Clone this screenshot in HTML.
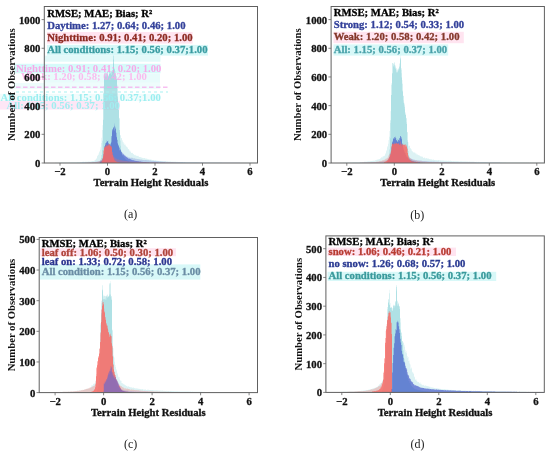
<!DOCTYPE html>
<html><head><meta charset="utf-8"><title>Terrain Height Residuals histograms</title>
<style>
html,body{margin:0;padding:0;background:#fff;}
body{width:550px;height:453px;overflow:hidden;}
svg{display:block;filter:blur(0.35px);}
svg text{font-family:'Liberation Serif', 'DejaVu Serif', serif;}
</style></head>
<body>
<svg width="550" height="453" viewBox="0 0 550 453">
<rect x="0" y="0" width="550" height="453" fill="#fff"/>
<rect x="44.5" y="55.7" width="116" height="6" fill="#e2f9f9"/>
<rect x="14.5" y="63.8" width="146" height="9.5" fill="#d6fafa"/>
<rect x="44" y="73.3" width="116" height="9.5" fill="#e8fbfb"/>
<rect x="14" y="83" width="146" height="6" fill="#eefcfc"/>
<rect x="0" y="93.8" width="160" height="7.2" fill="#f0fcfc"/>
<rect x="0" y="101" width="120" height="8.6" fill="#fde6f6"/>
<path d="M55.00 163.00L55.00 162.69L55.50 162.69L55.50 162.68L56.00 162.68L56.00 162.68L56.50 162.68L56.50 162.69L57.00 162.69L57.00 162.65L57.50 162.65L57.50 162.65L58.00 162.65L58.00 162.65L58.50 162.65L58.50 162.63L59.00 162.63L59.00 162.62L59.50 162.62L59.50 162.61L60.00 162.61L60.00 162.61L60.50 162.61L60.50 162.59L61.00 162.59L61.00 162.60L61.50 162.60L61.50 162.58L62.00 162.58L62.00 162.58L62.50 162.58L62.50 162.54L63.00 162.54L63.00 162.54L63.50 162.54L63.50 162.54L64.00 162.54L64.00 162.54L64.50 162.54L64.50 162.52L65.00 162.52L65.00 162.50L65.50 162.50L65.50 162.49L66.00 162.49L66.00 162.44L66.50 162.44L66.50 162.44L67.00 162.44L67.00 162.51L67.50 162.51L67.50 162.48L68.00 162.48L68.00 162.42L68.50 162.42L68.50 162.42L69.00 162.42L69.00 162.39L69.50 162.39L69.50 162.37L70.00 162.37L70.00 162.30L70.50 162.30L70.50 162.38L71.00 162.38L71.00 162.34L71.50 162.34L71.50 162.25L72.00 162.25L72.00 162.28L72.50 162.28L72.50 162.26L73.00 162.26L73.00 162.28L73.50 162.28L73.50 162.30L74.00 162.30L74.00 162.22L74.50 162.22L74.50 162.21L75.00 162.21L75.00 162.24L75.50 162.24L75.50 162.20L76.00 162.20L76.00 162.16L76.50 162.16L76.50 162.17L77.00 162.17L77.00 162.12L77.50 162.12L77.50 162.10L78.00 162.10L78.00 162.08L78.50 162.08L78.50 162.08L79.00 162.08L79.00 162.02L79.50 162.02L79.50 161.98L80.00 161.98L80.00 161.99L80.50 161.99L80.50 162.02L81.00 162.02L81.00 161.92L81.50 161.92L81.50 161.96L82.00 161.96L82.00 161.87L82.50 161.87L82.50 161.94L83.00 161.94L83.00 161.82L83.50 161.82L83.50 161.84L84.00 161.84L84.00 161.89L84.50 161.89L84.50 161.81L85.00 161.81L85.00 161.77L85.50 161.77L85.50 161.73L86.00 161.73L86.00 161.77L86.50 161.77L86.50 161.75L87.00 161.75L87.00 161.65L87.50 161.65L87.50 161.66L88.00 161.66L88.00 161.59L88.50 161.59L88.50 161.53L89.00 161.53L89.00 161.65L89.50 161.65L89.50 161.50L90.00 161.50L90.00 161.38L90.50 161.38L90.50 161.40L91.00 161.40L91.00 161.36L91.50 161.36L91.50 161.14L92.00 161.14L92.00 161.09L92.50 161.09L92.50 160.93L93.00 160.93L93.00 160.94L93.50 160.94L93.50 160.95L94.00 160.95L94.00 160.69L94.50 160.69L94.50 160.61L95.00 160.61L95.00 160.11L95.50 160.11L95.50 159.49L96.00 159.49L96.00 158.99L96.50 158.99L96.50 157.91L97.00 157.91L97.00 156.35L97.50 156.35L97.50 155.51L98.00 155.51L98.00 154.98L98.50 154.98L98.50 153.62L99.00 153.62L99.00 152.31L99.50 152.31L99.50 151.25L100.00 151.25L100.00 149.86L100.50 149.86L100.50 147.23L101.00 147.23L101.00 142.88L101.50 142.88L101.50 137.75L102.00 137.75L102.00 129.99L102.50 129.99L102.50 125.18L103.00 125.18L103.00 105.21L103.50 105.21L103.50 86.20L104.00 86.20L104.00 77.03L104.50 77.03L104.50 73.72L105.00 73.72L105.00 74.80L105.50 74.80L105.50 71.87L106.00 71.87L106.00 73.45L106.50 73.45L106.50 72.68L107.00 72.68L107.00 72.31L107.50 72.31L107.50 74.14L108.00 74.14L108.00 76.15L108.50 76.15L108.50 76.68L109.00 76.68L109.00 70.95L109.50 70.95L109.50 73.43L110.00 73.43L110.00 74.01L110.50 74.01L110.50 72.50L111.00 72.50L111.00 72.86L111.50 72.86L111.50 71.01L112.00 71.01L112.00 72.14L112.50 72.14L112.50 72.00L113.00 72.00L113.00 63.01L113.50 63.01L113.50 55.25L114.00 55.25L114.00 68.11L114.50 68.11L114.50 69.80L115.00 69.80L115.00 70.92L115.50 70.92L115.50 76.52L116.00 76.52L116.00 78.73L116.50 78.73L116.50 79.96L117.00 79.96L117.00 84.81L117.50 84.81L117.50 98.80L118.00 98.80L118.00 106.32L118.50 106.32L118.50 109.48L119.00 109.48L119.00 117.69L119.50 117.69L119.50 132.16L120.00 132.16L120.00 135.01L120.50 135.01L120.50 135.57L121.00 135.57L121.00 138.03L121.50 138.03L121.50 138.35L122.00 138.35L122.00 139.88L122.50 139.88L122.50 141.54L123.00 141.54L123.00 141.95L123.50 141.95L123.50 143.43L124.00 143.43L124.00 143.38L124.50 143.38L124.50 145.09L125.00 145.09L125.00 145.74L125.50 145.74L125.50 144.40L126.00 144.40L126.00 146.25L126.50 146.25L126.50 146.89L127.00 146.89L127.00 147.11L127.50 147.11L127.50 148.35L128.00 148.35L128.00 148.90L128.50 148.90L128.50 149.15L129.00 149.15L129.00 149.87L129.50 149.87L129.50 151.27L130.00 151.27L130.00 150.75L130.50 150.75L130.50 152.04L131.00 152.04L131.00 152.73L131.50 152.73L131.50 153.06L132.00 153.06L132.00 153.22L132.50 153.22L132.50 152.73L133.00 152.73L133.00 154.29L133.50 154.29L133.50 154.10L134.00 154.10L134.00 155.32L134.50 155.32L134.50 154.84L135.00 154.84L135.00 154.79L135.50 154.79L135.50 155.42L136.00 155.42L136.00 155.77L136.50 155.77L136.50 155.69L137.00 155.69L137.00 155.75L137.50 155.75L137.50 155.97L138.00 155.97L138.00 155.77L138.50 155.77L138.50 156.49L139.00 156.49L139.00 156.90L139.50 156.90L139.50 156.95L140.00 156.95L140.00 157.10L140.50 157.10L140.50 157.21L141.00 157.21L141.00 157.40L141.50 157.40L141.50 157.50L142.00 157.50L142.00 158.08L142.50 158.08L142.50 157.63L143.00 157.63L143.00 158.09L143.50 158.09L143.50 158.36L144.00 158.36L144.00 158.09L144.50 158.09L144.50 158.08L145.00 158.08L145.00 158.38L145.50 158.38L145.50 158.57L146.00 158.57L146.00 158.89L146.50 158.89L146.50 158.29L147.00 158.29L147.00 158.78L147.50 158.78L147.50 159.25L148.00 159.25L148.00 159.29L148.50 159.29L148.50 159.24L149.00 159.24L149.00 159.61L149.50 159.61L149.50 159.43L150.00 159.43L150.00 159.62L150.50 159.62L150.50 159.46L151.00 159.46L151.00 159.59L151.50 159.59L151.50 160.21L152.00 160.21L152.00 159.91L152.50 159.91L152.50 160.22L153.00 160.22L153.00 159.93L153.50 159.93L153.50 160.14L154.00 160.14L154.00 160.17L154.50 160.17L154.50 160.44L155.00 160.44L155.00 160.17L155.50 160.17L155.50 160.23L156.00 160.23L156.00 160.65L156.50 160.65L156.50 160.56L157.00 160.56L157.00 160.74L157.50 160.74L157.50 160.73L158.00 160.73L158.00 160.92L158.50 160.92L158.50 160.67L159.00 160.67L159.00 161.00L159.50 161.00L159.50 161.00L160.00 161.00L160.00 160.97L160.50 160.97L160.50 161.11L161.00 161.11L161.00 161.10L161.50 161.10L161.50 161.16L162.00 161.16L162.00 161.16L162.50 161.16L162.50 161.27L163.00 161.27L163.00 161.24L163.50 161.24L163.50 161.25L164.00 161.25L164.00 161.29L164.50 161.29L164.50 161.29L165.00 161.29L165.00 161.35L165.50 161.35L165.50 161.30L166.00 161.30L166.00 161.41L166.50 161.41L166.50 161.42L167.00 161.42L167.00 161.48L167.50 161.48L167.50 161.50L168.00 161.50L168.00 161.57L168.50 161.57L168.50 161.48L169.00 161.48L169.00 161.61L169.50 161.61L169.50 161.61L170.00 161.61L170.00 161.57L170.50 161.57L170.50 161.59L171.00 161.59L171.00 161.66L171.50 161.66L171.50 161.78L172.00 161.78L172.00 161.66L172.50 161.66L172.50 161.69L173.00 161.69L173.00 161.81L173.50 161.81L173.50 161.70L174.00 161.70L174.00 161.81L174.50 161.81L174.50 161.85L175.00 161.85L175.00 161.80L175.50 161.80L175.50 161.83L176.00 161.83L176.00 161.83L176.50 161.83L176.50 161.94L177.00 161.94L177.00 161.78L177.50 161.78L177.50 161.92L178.00 161.92L178.00 161.98L178.50 161.98L178.50 161.89L179.00 161.89L179.00 161.95L179.50 161.95L179.50 161.93L180.00 161.93L180.00 161.98L180.50 161.98L180.50 161.98L181.00 161.98L181.00 161.98L181.50 161.98L181.50 162.04L182.00 162.04L182.00 161.99L182.50 161.99L182.50 162.05L183.00 162.05L183.00 162.08L183.50 162.08L183.50 162.05L184.00 162.05L184.00 162.05L184.50 162.05L184.50 162.09L185.00 162.09L185.00 162.13L185.50 162.13L185.50 162.08L186.00 162.08L186.00 162.19L186.50 162.19L186.50 162.17L187.00 162.17L187.00 162.14L187.50 162.14L187.50 162.21L188.00 162.21L188.00 162.17L188.50 162.17L188.50 162.18L189.00 162.18L189.00 162.16L189.50 162.16L189.50 162.23L190.00 162.23L190.00 162.23L190.50 162.23L190.50 162.21L191.00 162.21L191.00 162.32L191.50 162.32L191.50 162.14L192.00 162.14L192.00 162.28L192.50 162.28L192.50 162.29L193.00 162.29L193.00 162.25L193.50 162.25L193.50 162.29L194.00 162.29L194.00 162.35L194.50 162.35L194.50 162.28L195.00 162.28L195.00 162.29L195.50 162.29L195.50 162.34L196.00 162.34L196.00 162.34L196.50 162.34L196.50 162.33L197.00 162.33L197.00 162.38L197.50 162.38L197.50 162.35L198.00 162.35L198.00 162.36L198.50 162.36L198.50 162.40L199.00 162.40L199.00 162.43L199.50 162.43L199.50 162.40L200.00 162.40L200.00 162.43L200.50 162.43L200.50 162.38L201.00 162.38L201.00 162.41L201.50 162.41L201.50 162.40L202.00 162.40L202.00 162.43L202.50 162.43L202.50 162.43L203.00 162.43L203.00 162.46L203.50 162.46L203.50 162.43L204.00 162.43L204.00 162.41L204.50 162.41L204.50 162.47L205.00 162.47L205.00 162.48L205.50 162.48L205.50 162.48L206.00 162.48L206.00 162.49L206.50 162.49L206.50 162.50L207.00 162.50L207.00 162.49L207.50 162.49L207.50 162.50L208.00 162.50L208.00 162.47L208.50 162.47L208.50 162.51L209.00 162.51L209.00 162.51L209.50 162.51L209.50 162.50L210.00 162.50L210.00 162.53L210.50 162.53L210.50 162.50L211.00 162.50L211.00 162.55L211.50 162.55L211.50 162.56L212.00 162.56L212.00 162.55L212.50 162.55L212.50 162.55L213.00 162.55L213.00 162.58L213.50 162.58L213.50 162.56L214.00 162.56L214.00 162.60L214.50 162.60L214.50 162.54L215.00 162.54L215.00 162.58L215.50 162.58L215.50 162.59L216.00 162.59L216.00 162.60L216.50 162.60L216.50 162.60L217.00 162.60L217.00 162.60L217.50 162.60L217.50 162.62L218.00 162.62L218.00 162.62L218.50 162.62L218.50 162.61L219.00 162.61L219.00 162.62L219.50 162.62L219.50 162.60L220.00 162.60L220.00 162.60L220.50 162.60L220.50 162.63L221.00 162.63L221.00 162.62L221.50 162.62L221.50 162.66L222.00 162.66L222.00 162.63L222.50 162.63L222.50 162.64L223.00 162.64L223.00 162.64L223.50 162.64L223.50 162.63L224.00 162.63L224.00 162.69L224.50 162.69L224.50 162.66L225.00 162.66L225.00 162.68L225.50 162.68L225.50 162.66L226.00 162.66L226.00 162.69L226.50 162.69L226.50 162.68L227.00 162.68L227.00 162.68L227.50 162.68L227.50 162.67L228.00 162.67L228.00 162.69L228.50 162.69L228.50 162.70L229.00 162.70L229.00 162.70L229.50 162.70L229.50 162.69L230.00 162.69L230.00 162.70L230.50 162.70L230.50 162.73L231.00 162.73L231.00 162.70L231.50 162.70L231.50 162.71L232.00 162.71L232.00 162.70L232.50 162.70L232.50 162.72L233.00 162.72L233.00 162.71L233.50 162.71L233.50 162.74L234.00 162.74L234.00 162.72L234.50 162.72L234.50 162.74L235.00 162.74L235.00 162.73L235.50 162.73L235.50 162.73L236.00 162.73L236.00 162.75L236.50 162.75L236.50 162.75L237.00 162.75L237.00 162.75L237.50 162.75L237.50 162.74L238.00 162.74L238.00 162.75L238.50 162.75L238.50 162.77L239.00 162.77L239.00 162.76L239.50 162.76L239.50 162.76L240.00 162.76L240.00 162.74L240.50 162.74L240.50 162.79L241.00 162.79L241.00 162.78L241.50 162.78L241.50 162.76L242.00 162.76L242.00 162.79L242.50 162.79L242.50 162.79L243.00 162.79L243.00 162.78L243.50 162.78L243.50 162.78L244.00 162.78L244.00 162.80L244.50 162.80L244.50 162.79L245.00 162.79L245.00 162.79L245.50 162.79L245.50 162.78L246.00 162.78L246.00 162.80L246.50 162.80L246.50 162.79L247.00 162.79L247.00 162.81L247.50 162.81L247.50 162.81L248.00 162.81L248.00 162.81L248.50 162.81L248.50 162.80L249.00 162.80L249.00 162.81L249.50 162.81L249.50 162.82L250.00 162.82L250.00 162.81L250.50 162.81L250.50 162.82L251.00 162.82L251.00 162.83L251.50 162.83L251.50 162.83L252.00 162.83L252.00 162.83L252.50 162.83L252.50 162.84L253.00 162.84L253.00 162.83L253.50 162.83L253.50 162.83L254.00 162.83L254.00 162.84L254.50 162.84L254.50 162.84L255.00 162.84L255.00 162.85L255.50 162.85L255.50 162.85L256.00 162.85L256.00 162.85L256.50 162.85L256.50 162.84L257.00 162.84L257.00 163.00Z" fill="rgba(110,200,208,0.24)"/>
<path d="M99.00 163.00L99.00 161.85L99.50 161.85L99.50 161.46L100.00 161.46L100.00 160.54L100.50 160.54L100.50 159.52L101.00 159.52L101.00 158.08L101.50 158.08L101.50 155.11L102.00 155.11L102.00 150.03L102.50 150.03L102.50 140.84L103.00 140.84L103.00 119.85L103.50 119.85L103.50 92.64L104.00 92.64L104.00 76.13L104.50 76.13L104.50 72.71L105.00 72.71L105.00 76.39L105.50 76.39L105.50 73.78L106.00 73.78L106.00 73.95L106.50 73.95L106.50 76.52L107.00 76.52L107.00 74.43L107.50 74.43L107.50 72.12L108.00 72.12L108.00 75.30L108.50 75.30L108.50 76.19L109.00 76.19L109.00 73.90L109.50 73.90L109.50 71.89L110.00 71.89L110.00 72.60L110.50 72.60L110.50 72.74L111.00 72.74L111.00 74.81L111.50 74.81L111.50 71.57L112.00 71.57L112.00 71.42L112.50 71.42L112.50 69.87L113.00 69.87L113.00 59.48L113.50 59.48L113.50 54.90L114.00 54.90L114.00 69.08L114.50 69.08L114.50 73.17L115.00 73.17L115.00 75.12L115.50 75.12L115.50 73.61L116.00 73.61L116.00 76.05L116.50 76.05L116.50 78.85L117.00 78.85L117.00 88.50L117.50 88.50L117.50 96.62L118.00 96.62L118.00 103.11L118.50 103.11L118.50 109.88L119.00 109.88L119.00 118.60L119.50 118.60L119.50 130.01L120.00 130.01L120.00 140.53L120.50 140.53L120.50 145.86L121.00 145.86L121.00 150.70L121.50 150.70L121.50 153.74L122.00 153.74L122.00 155.16L122.50 155.16L122.50 156.00L123.00 156.00L123.00 156.32L123.50 156.32L123.50 157.16L124.00 157.16L124.00 157.78L124.50 157.78L124.50 158.31L125.00 158.31L125.00 159.10L125.50 159.10L125.50 159.49L126.00 159.49L126.00 159.92L126.50 159.92L126.50 160.20L127.00 160.20L127.00 160.56L127.50 160.56L127.50 160.61L128.00 160.61L128.00 160.85L128.50 160.85L128.50 161.11L129.00 161.11L129.00 161.32L129.50 161.32L129.50 161.39L130.00 161.39L130.00 161.45L130.50 161.45L130.50 161.61L131.00 161.61L131.00 161.67L131.50 161.67L131.50 161.79L132.00 161.79L132.00 161.84L132.50 161.84L132.50 161.90L133.00 161.90L133.00 161.96L133.50 161.96L133.50 162.03L134.00 162.03L134.00 162.04L134.50 162.04L134.50 162.05L135.00 162.05L135.00 162.19L135.50 162.19L135.50 162.15L136.00 162.15L136.00 162.25L136.50 162.25L136.50 162.29L137.00 162.29L137.00 162.38L137.50 162.38L137.50 162.43L138.00 162.43L138.00 162.37L138.50 162.37L138.50 162.45L139.00 162.45L139.00 162.44L139.50 162.44L139.50 162.48L140.00 162.48L140.00 163.00Z" fill="rgba(110,200,208,0.408)"/>
<path d="M80.00 163.00L80.00 162.69L80.50 162.69L80.50 162.69L81.00 162.69L81.00 162.67L81.50 162.67L81.50 162.69L82.00 162.69L82.00 162.61L82.50 162.61L82.50 162.60L83.00 162.60L83.00 162.61L83.50 162.61L83.50 162.57L84.00 162.57L84.00 162.57L84.50 162.57L84.50 162.56L85.00 162.56L85.00 162.51L85.50 162.51L85.50 162.52L86.00 162.52L86.00 162.50L86.50 162.50L86.50 162.49L87.00 162.49L87.00 162.44L87.50 162.44L87.50 162.43L88.00 162.43L88.00 162.39L88.50 162.39L88.50 162.40L89.00 162.40L89.00 162.35L89.50 162.35L89.50 162.36L90.00 162.36L90.00 162.28L90.50 162.28L90.50 162.27L91.00 162.27L91.00 162.23L91.50 162.23L91.50 162.20L92.00 162.20L92.00 162.21L92.50 162.21L92.50 162.10L93.00 162.10L93.00 161.99L93.50 161.99L93.50 162.09L94.00 162.09L94.00 162.04L94.50 162.04L94.50 161.97L95.00 161.97L95.00 161.79L95.50 161.79L95.50 161.76L96.00 161.76L96.00 161.63L96.50 161.63L96.50 161.57L97.00 161.57L97.00 161.52L97.50 161.52L97.50 161.43L98.00 161.43L98.00 161.37L98.50 161.37L98.50 161.20L99.00 161.20L99.00 161.26L99.50 161.26L99.50 161.09L100.00 161.09L100.00 160.83L100.50 160.83L100.50 160.34L101.00 160.34L101.00 160.27L101.50 160.27L101.50 159.91L102.00 159.91L102.00 159.36L102.50 159.36L102.50 158.13L103.00 158.13L103.00 156.74L103.50 156.74L103.50 153.90L104.00 153.90L104.00 152.39L104.50 152.39L104.50 146.67L105.00 146.67L105.00 143.68L105.50 143.68L105.50 144.83L106.00 144.83L106.00 142.45L106.50 142.45L106.50 140.37L107.00 140.37L107.00 141.26L107.50 141.26L107.50 141.08L108.00 141.08L108.00 140.51L108.50 140.51L108.50 143.29L109.00 143.29L109.00 144.79L109.50 144.79L109.50 146.14L110.00 146.14L110.00 144.78L110.50 144.78L110.50 143.97L111.00 143.97L111.00 141.42L111.50 141.42L111.50 137.38L112.00 137.38L112.00 132.53L112.50 132.53L112.50 131.49L113.00 131.49L113.00 129.38L113.50 129.38L113.50 128.59L114.00 128.59L114.00 123.42L114.50 123.42L114.50 127.08L115.00 127.08L115.00 126.79L115.50 126.79L115.50 131.66L116.00 131.66L116.00 135.66L116.50 135.66L116.50 137.08L117.00 137.08L117.00 140.34L117.50 140.34L117.50 143.90L118.00 143.90L118.00 145.70L118.50 145.70L118.50 145.25L119.00 145.25L119.00 147.38L119.50 147.38L119.50 148.35L120.00 148.35L120.00 149.72L120.50 149.72L120.50 150.94L121.00 150.94L121.00 151.14L121.50 151.14L121.50 152.60L122.00 152.60L122.00 153.57L122.50 153.57L122.50 153.76L123.00 153.76L123.00 154.50L123.50 154.50L123.50 154.49L124.00 154.49L124.00 154.55L124.50 154.55L124.50 155.57L125.00 155.57L125.00 155.09L125.50 155.09L125.50 156.07L126.00 156.07L126.00 156.08L126.50 156.08L126.50 156.64L127.00 156.64L127.00 156.70L127.50 156.70L127.50 156.87L128.00 156.87L128.00 157.18L128.50 157.18L128.50 157.38L129.00 157.38L129.00 157.51L129.50 157.51L129.50 157.66L130.00 157.66L130.00 157.97L130.50 157.97L130.50 157.77L131.00 157.77L131.00 157.73L131.50 157.73L131.50 157.74L132.00 157.74L132.00 157.91L132.50 157.91L132.50 157.63L133.00 157.63L133.00 158.20L133.50 158.20L133.50 158.47L134.00 158.47L134.00 158.10L134.50 158.10L134.50 158.78L135.00 158.78L135.00 158.49L135.50 158.49L135.50 158.95L136.00 158.95L136.00 158.80L136.50 158.80L136.50 159.31L137.00 159.31L137.00 158.88L137.50 158.88L137.50 159.16L138.00 159.16L138.00 159.38L138.50 159.38L138.50 159.02L139.00 159.02L139.00 159.26L139.50 159.26L139.50 159.45L140.00 159.45L140.00 159.65L140.50 159.65L140.50 159.59L141.00 159.59L141.00 159.67L141.50 159.67L141.50 159.59L142.00 159.59L142.00 159.64L142.50 159.64L142.50 159.90L143.00 159.90L143.00 159.94L143.50 159.94L143.50 159.99L144.00 159.99L144.00 160.15L144.50 160.15L144.50 160.10L145.00 160.10L145.00 160.08L145.50 160.08L145.50 160.03L146.00 160.03L146.00 159.99L146.50 159.99L146.50 160.31L147.00 160.31L147.00 160.19L147.50 160.19L147.50 160.36L148.00 160.36L148.00 160.10L148.50 160.10L148.50 160.40L149.00 160.40L149.00 160.38L149.50 160.38L149.50 160.59L150.00 160.59L150.00 160.62L150.50 160.62L150.50 160.57L151.00 160.57L151.00 160.69L151.50 160.69L151.50 160.68L152.00 160.68L152.00 160.93L152.50 160.93L152.50 160.76L153.00 160.76L153.00 160.97L153.50 160.97L153.50 160.77L154.00 160.77L154.00 161.01L154.50 161.01L154.50 160.94L155.00 160.94L155.00 161.21L155.50 161.21L155.50 161.10L156.00 161.10L156.00 161.25L156.50 161.25L156.50 161.27L157.00 161.27L157.00 161.27L157.50 161.27L157.50 161.34L158.00 161.34L158.00 161.34L158.50 161.34L158.50 161.35L159.00 161.35L159.00 161.40L159.50 161.40L159.50 161.49L160.00 161.49L160.00 161.61L160.50 161.61L160.50 161.60L161.00 161.60L161.00 161.59L161.50 161.59L161.50 161.74L162.00 161.74L162.00 161.59L162.50 161.59L162.50 161.68L163.00 161.68L163.00 161.70L163.50 161.70L163.50 161.66L164.00 161.66L164.00 161.70L164.50 161.70L164.50 161.76L165.00 161.76L165.00 161.85L165.50 161.85L165.50 161.80L166.00 161.80L166.00 161.83L166.50 161.83L166.50 161.91L167.00 161.91L167.00 161.84L167.50 161.84L167.50 161.89L168.00 161.89L168.00 162.03L168.50 162.03L168.50 161.95L169.00 161.95L169.00 162.04L169.50 162.04L169.50 161.95L170.00 161.95L170.00 161.99L170.50 161.99L170.50 162.09L171.00 162.09L171.00 162.10L171.50 162.10L171.50 162.08L172.00 162.08L172.00 162.11L172.50 162.11L172.50 162.06L173.00 162.06L173.00 162.11L173.50 162.11L173.50 162.17L174.00 162.17L174.00 162.15L174.50 162.15L174.50 162.27L175.00 162.27L175.00 162.19L175.50 162.19L175.50 162.19L176.00 162.19L176.00 162.23L176.50 162.23L176.50 162.26L177.00 162.26L177.00 162.23L177.50 162.23L177.50 162.19L178.00 162.19L178.00 162.26L178.50 162.26L178.50 162.31L179.00 162.31L179.00 162.24L179.50 162.24L179.50 162.36L180.00 162.36L180.00 162.29L180.50 162.29L180.50 162.33L181.00 162.33L181.00 162.30L181.50 162.30L181.50 162.36L182.00 162.36L182.00 162.30L182.50 162.30L182.50 162.34L183.00 162.34L183.00 162.41L183.50 162.41L183.50 162.43L184.00 162.43L184.00 162.39L184.50 162.39L184.50 162.35L185.00 162.35L185.00 162.39L185.50 162.39L185.50 162.40L186.00 162.40L186.00 162.42L186.50 162.42L186.50 162.40L187.00 162.40L187.00 162.42L187.50 162.42L187.50 162.43L188.00 162.43L188.00 162.47L188.50 162.47L188.50 162.42L189.00 162.42L189.00 162.43L189.50 162.43L189.50 162.50L190.00 162.50L190.00 162.42L190.50 162.42L190.50 162.46L191.00 162.46L191.00 162.50L191.50 162.50L191.50 162.54L192.00 162.54L192.00 162.49L192.50 162.49L192.50 162.50L193.00 162.50L193.00 162.53L193.50 162.53L193.50 162.56L194.00 162.56L194.00 162.51L194.50 162.51L194.50 162.55L195.00 162.55L195.00 162.55L195.50 162.55L195.50 162.49L196.00 162.49L196.00 162.51L196.50 162.51L196.50 162.54L197.00 162.54L197.00 162.58L197.50 162.58L197.50 162.56L198.00 162.56L198.00 162.62L198.50 162.62L198.50 162.58L199.00 162.58L199.00 162.61L199.50 162.61L199.50 162.62L200.00 162.62L200.00 162.63L200.50 162.63L200.50 162.60L201.00 162.60L201.00 162.61L201.50 162.61L201.50 162.61L202.00 162.61L202.00 162.61L202.50 162.61L202.50 162.64L203.00 162.64L203.00 162.65L203.50 162.65L203.50 162.66L204.00 162.66L204.00 162.64L204.50 162.64L204.50 162.63L205.00 162.63L205.00 162.65L205.50 162.65L205.50 162.64L206.00 162.64L206.00 162.67L206.50 162.67L206.50 162.66L207.00 162.66L207.00 162.67L207.50 162.67L207.50 162.68L208.00 162.68L208.00 162.64L208.50 162.64L208.50 162.66L209.00 162.66L209.00 162.69L209.50 162.69L209.50 162.69L210.00 162.69L210.00 162.69L210.50 162.69L210.50 162.71L211.00 162.71L211.00 162.69L211.50 162.69L211.50 162.71L212.00 162.71L212.00 162.70L212.50 162.70L212.50 162.72L213.00 162.72L213.00 162.71L213.50 162.71L213.50 162.73L214.00 162.73L214.00 162.73L214.50 162.73L214.50 162.73L215.00 162.73L215.00 162.73L215.50 162.73L215.50 162.73L216.00 162.73L216.00 162.73L216.50 162.73L216.50 162.71L217.00 162.71L217.00 162.72L217.50 162.72L217.50 162.74L218.00 162.74L218.00 162.73L218.50 162.73L218.50 162.75L219.00 162.75L219.00 162.73L219.50 162.73L219.50 162.74L220.00 162.74L220.00 162.77L220.50 162.77L220.50 162.75L221.00 162.75L221.00 162.75L221.50 162.75L221.50 162.79L222.00 162.79L222.00 162.77L222.50 162.77L222.50 162.77L223.00 162.77L223.00 162.79L223.50 162.79L223.50 162.78L224.00 162.78L224.00 162.78L224.50 162.78L224.50 162.77L225.00 162.77L225.00 162.78L225.50 162.78L225.50 162.76L226.00 162.76L226.00 162.79L226.50 162.79L226.50 162.78L227.00 162.78L227.00 162.79L227.50 162.79L227.50 162.79L228.00 162.79L228.00 162.81L228.50 162.81L228.50 162.82L229.00 162.82L229.00 162.81L229.50 162.81L229.50 162.80L230.00 162.80L230.00 162.79L230.50 162.79L230.50 162.80L231.00 162.80L231.00 162.81L231.50 162.81L231.50 162.82L232.00 162.82L232.00 162.80L232.50 162.80L232.50 162.81L233.00 162.81L233.00 162.82L233.50 162.82L233.50 162.82L234.00 162.82L234.00 162.83L234.50 162.83L234.50 162.82L235.00 162.82L235.00 162.83L235.50 162.83L235.50 162.83L236.00 162.83L236.00 162.83L236.50 162.83L236.50 162.83L237.00 162.83L237.00 162.84L237.50 162.84L237.50 162.85L238.00 162.85L238.00 162.85L238.50 162.85L238.50 162.86L239.00 162.86L239.00 162.84L239.50 162.84L239.50 162.83L240.00 162.83L240.00 163.00Z" fill="rgba(60,80,200,0.22)"/>
<path d="M100.00 163.00L100.00 161.85L100.50 161.85L100.50 161.47L101.00 161.47L101.00 161.19L101.50 161.19L101.50 160.94L102.00 160.94L102.00 160.38L102.50 160.38L102.50 159.19L103.00 159.19L103.00 157.52L103.50 157.52L103.50 154.37L104.00 154.37L104.00 152.43L104.50 152.43L104.50 145.98L105.00 145.98L105.00 142.98L105.50 142.98L105.50 144.86L106.00 144.86L106.00 142.87L106.50 142.87L106.50 142.13L107.00 142.13L107.00 141.71L107.50 141.71L107.50 141.08L108.00 141.08L108.00 143.12L108.50 143.12L108.50 144.31L109.00 144.31L109.00 143.93L109.50 143.93L109.50 144.43L110.00 144.43L110.00 145.60L110.50 145.60L110.50 143.48L111.00 143.48L111.00 142.60L111.50 142.60L111.50 136.01L112.00 136.01L112.00 130.21L112.50 130.21L112.50 128.88L113.00 128.88L113.00 126.90L113.50 126.90L113.50 127.90L114.00 127.90L114.00 125.73L114.50 125.73L114.50 130.43L115.00 130.43L115.00 127.75L115.50 127.75L115.50 128.96L116.00 128.96L116.00 132.79L116.50 132.79L116.50 137.34L117.00 137.34L117.00 139.67L117.50 139.67L117.50 143.32L118.00 143.32L118.00 144.73L118.50 144.73L118.50 146.33L119.00 146.33L119.00 147.58L119.50 147.58L119.50 150.36L120.00 150.36L120.00 149.36L120.50 149.36L120.50 150.26L121.00 150.26L121.00 151.97L121.50 151.97L121.50 152.32L122.00 152.32L122.00 152.86L122.50 152.86L122.50 154.62L123.00 154.62L123.00 153.76L123.50 153.76L123.50 154.76L124.00 154.76L124.00 155.40L124.50 155.40L124.50 155.40L125.00 155.40L125.00 156.18L125.50 156.18L125.50 156.51L126.00 156.51L126.00 157.06L126.50 157.06L126.50 157.34L127.00 157.34L127.00 157.83L127.50 157.83L127.50 158.00L128.00 158.00L128.00 158.42L128.50 158.42L128.50 158.75L129.00 158.75L129.00 158.54L129.50 158.54L129.50 159.00L130.00 159.00L130.00 159.18L130.50 159.18L130.50 159.20L131.00 159.20L131.00 159.60L131.50 159.60L131.50 159.90L132.00 159.90L132.00 160.22L132.50 160.22L132.50 160.09L133.00 160.09L133.00 160.25L133.50 160.25L133.50 160.30L134.00 160.30L134.00 160.55L134.50 160.55L134.50 160.68L135.00 160.68L135.00 160.96L135.50 160.96L135.50 160.78L136.00 160.78L136.00 161.07L136.50 161.07L136.50 161.06L137.00 161.06L137.00 161.05L137.50 161.05L137.50 161.17L138.00 161.17L138.00 161.26L138.50 161.26L138.50 161.30L139.00 161.30L139.00 161.53L139.50 161.53L139.50 161.47L140.00 161.47L140.00 161.45L140.50 161.45L140.50 161.53L141.00 161.53L141.00 161.76L141.50 161.76L141.50 161.67L142.00 161.67L142.00 161.75L142.50 161.75L142.50 161.89L143.00 161.89L143.00 161.96L143.50 161.96L143.50 161.94L144.00 161.94L144.00 161.92L144.50 161.92L144.50 162.01L145.00 162.01L145.00 162.11L145.50 162.11L145.50 162.11L146.00 162.11L146.00 162.11L146.50 162.11L146.50 162.19L147.00 162.19L147.00 162.24L147.50 162.24L147.50 162.25L148.00 162.25L148.00 162.36L148.50 162.36L148.50 162.31L149.00 162.31L149.00 162.40L149.50 162.40L149.50 162.39L150.00 162.39L150.00 162.40L150.50 162.40L150.50 162.44L151.00 162.44L151.00 162.47L151.50 162.47L151.50 162.48L152.00 162.48L152.00 162.47L152.50 162.47L152.50 162.54L153.00 162.54L153.00 162.54L153.50 162.54L153.50 162.53L154.00 162.53L154.00 162.54L154.50 162.54L154.50 162.57L155.00 162.57L155.00 162.60L155.50 162.60L155.50 162.59L156.00 162.59L156.00 162.62L156.50 162.62L156.50 162.59L157.00 162.59L157.00 162.62L157.50 162.62L157.50 162.62L158.00 162.62L158.00 162.68L158.50 162.68L158.50 162.69L159.00 162.69L159.00 162.69L159.50 162.69L159.50 162.72L160.00 162.72L160.00 162.72L160.50 162.72L160.50 162.71L161.00 162.71L161.00 162.75L161.50 162.75L161.50 162.75L162.00 162.75L162.00 162.74L162.50 162.74L162.50 162.76L163.00 162.76L163.00 162.77L163.50 162.77L163.50 162.78L164.00 162.78L164.00 162.79L164.50 162.79L164.50 162.80L165.00 162.80L165.00 163.00Z" fill="rgba(60,80,200,0.551)"/>
<path d="M85.00 163.00L85.00 162.66L85.50 162.66L85.50 162.71L86.00 162.71L86.00 162.65L86.50 162.65L86.50 162.65L87.00 162.65L87.00 162.63L87.50 162.63L87.50 162.61L88.00 162.61L88.00 162.62L88.50 162.62L88.50 162.57L89.00 162.57L89.00 162.56L89.50 162.56L89.50 162.44L90.00 162.44L90.00 162.49L90.50 162.49L90.50 162.48L91.00 162.48L91.00 162.45L91.50 162.45L91.50 162.43L92.00 162.43L92.00 162.41L92.50 162.41L92.50 162.37L93.00 162.37L93.00 162.31L93.50 162.31L93.50 162.30L94.00 162.30L94.00 162.22L94.50 162.22L94.50 162.23L95.00 162.23L95.00 162.16L95.50 162.16L95.50 162.02L96.00 162.02L96.00 161.97L96.50 161.97L96.50 161.92L97.00 161.92L97.00 161.80L97.50 161.80L97.50 161.64L98.00 161.64L98.00 161.42L98.50 161.42L98.50 161.42L99.00 161.42L99.00 161.27L99.50 161.27L99.50 161.00L100.00 161.00L100.00 160.94L100.50 160.94L100.50 160.57L101.00 160.57L101.00 160.06L101.50 160.06L101.50 159.66L102.00 159.66L102.00 159.25L102.50 159.25L102.50 157.82L103.00 157.82L103.00 156.06L103.50 156.06L103.50 150.63L104.00 150.63L104.00 147.65L104.50 147.65L104.50 147.79L105.00 147.79L105.00 145.93L105.50 145.93L105.50 145.17L106.00 145.17L106.00 145.79L106.50 145.79L106.50 146.17L107.00 146.17L107.00 145.17L107.50 145.17L107.50 145.11L108.00 145.11L108.00 143.93L108.50 143.93L108.50 144.59L109.00 144.59L109.00 145.16L109.50 145.16L109.50 144.56L110.00 144.56L110.00 145.88L110.50 145.88L110.50 146.84L111.00 146.84L111.00 146.12L111.50 146.12L111.50 146.54L112.00 146.54L112.00 152.05L112.50 152.05L112.50 154.88L113.00 154.88L113.00 155.57L113.50 155.57L113.50 157.30L114.00 157.30L114.00 157.02L114.50 157.02L114.50 157.46L115.00 157.46L115.00 158.31L115.50 158.31L115.50 158.25L116.00 158.25L116.00 158.76L116.50 158.76L116.50 158.72L117.00 158.72L117.00 159.45L117.50 159.45L117.50 159.42L118.00 159.42L118.00 159.33L118.50 159.33L118.50 159.43L119.00 159.43L119.00 160.08L119.50 160.08L119.50 159.98L120.00 159.98L120.00 160.01L120.50 160.01L120.50 160.26L121.00 160.26L121.00 160.12L121.50 160.12L121.50 160.58L122.00 160.58L122.00 160.50L122.50 160.50L122.50 160.73L123.00 160.73L123.00 160.54L123.50 160.54L123.50 160.77L124.00 160.77L124.00 160.87L124.50 160.87L124.50 161.06L125.00 161.06L125.00 160.81L125.50 160.81L125.50 160.96L126.00 160.96L126.00 161.03L126.50 161.03L126.50 161.06L127.00 161.06L127.00 161.18L127.50 161.18L127.50 161.32L128.00 161.32L128.00 161.38L128.50 161.38L128.50 161.43L129.00 161.43L129.00 161.33L129.50 161.33L129.50 161.58L130.00 161.58L130.00 161.55L130.50 161.55L130.50 161.56L131.00 161.56L131.00 161.54L131.50 161.54L131.50 161.54L132.00 161.54L132.00 161.68L132.50 161.68L132.50 161.73L133.00 161.73L133.00 161.64L133.50 161.64L133.50 161.59L134.00 161.59L134.00 161.64L134.50 161.64L134.50 161.69L135.00 161.69L135.00 161.74L135.50 161.74L135.50 161.73L136.00 161.73L136.00 161.78L136.50 161.78L136.50 161.74L137.00 161.74L137.00 161.85L137.50 161.85L137.50 161.81L138.00 161.81L138.00 161.85L138.50 161.85L138.50 161.83L139.00 161.83L139.00 161.86L139.50 161.86L139.50 161.77L140.00 161.77L140.00 161.84L140.50 161.84L140.50 161.86L141.00 161.86L141.00 162.04L141.50 162.04L141.50 161.98L142.00 161.98L142.00 162.01L142.50 162.01L142.50 161.97L143.00 161.97L143.00 162.11L143.50 162.11L143.50 161.97L144.00 161.97L144.00 161.99L144.50 161.99L144.50 162.11L145.00 162.11L145.00 162.11L145.50 162.11L145.50 162.12L146.00 162.12L146.00 162.10L146.50 162.10L146.50 162.09L147.00 162.09L147.00 162.05L147.50 162.05L147.50 162.15L148.00 162.15L148.00 162.12L148.50 162.12L148.50 162.16L149.00 162.16L149.00 162.12L149.50 162.12L149.50 162.17L150.00 162.17L150.00 162.16L150.50 162.16L150.50 162.26L151.00 162.26L151.00 162.24L151.50 162.24L151.50 162.27L152.00 162.27L152.00 162.20L152.50 162.20L152.50 162.24L153.00 162.24L153.00 162.29L153.50 162.29L153.50 162.30L154.00 162.30L154.00 162.29L154.50 162.29L154.50 162.33L155.00 162.33L155.00 162.35L155.50 162.35L155.50 162.32L156.00 162.32L156.00 162.27L156.50 162.27L156.50 162.36L157.00 162.36L157.00 162.38L157.50 162.38L157.50 162.41L158.00 162.41L158.00 162.42L158.50 162.42L158.50 162.38L159.00 162.38L159.00 162.38L159.50 162.38L159.50 162.41L160.00 162.41L160.00 162.41L160.50 162.41L160.50 162.43L161.00 162.43L161.00 162.44L161.50 162.44L161.50 162.49L162.00 162.49L162.00 162.47L162.50 162.47L162.50 162.46L163.00 162.46L163.00 162.49L163.50 162.49L163.50 162.50L164.00 162.50L164.00 162.51L164.50 162.51L164.50 162.51L165.00 162.51L165.00 162.49L165.50 162.49L165.50 162.53L166.00 162.53L166.00 162.53L166.50 162.53L166.50 162.51L167.00 162.51L167.00 162.53L167.50 162.53L167.50 162.51L168.00 162.51L168.00 162.60L168.50 162.60L168.50 162.54L169.00 162.54L169.00 162.58L169.50 162.58L169.50 162.57L170.00 162.57L170.00 162.57L170.50 162.57L170.50 162.57L171.00 162.57L171.00 162.58L171.50 162.58L171.50 162.60L172.00 162.60L172.00 162.58L172.50 162.58L172.50 162.62L173.00 162.62L173.00 162.63L173.50 162.63L173.50 162.62L174.00 162.62L174.00 162.64L174.50 162.64L174.50 162.61L175.00 162.61L175.00 162.63L175.50 162.63L175.50 162.62L176.00 162.62L176.00 162.66L176.50 162.66L176.50 162.67L177.00 162.67L177.00 162.67L177.50 162.67L177.50 162.67L178.00 162.67L178.00 162.69L178.50 162.69L178.50 162.68L179.00 162.68L179.00 162.69L179.50 162.69L179.50 162.68L180.00 162.68L180.00 163.00Z" fill="rgba(250,105,100,0.3)"/>
<path d="M101.50 163.00L101.50 161.58L102.00 161.58L102.00 160.67L102.50 160.67L102.50 158.40L103.00 158.40L103.00 155.67L103.50 155.67L103.50 150.60L104.00 150.60L104.00 148.08L104.50 148.08L104.50 147.08L105.00 147.08L105.00 146.60L105.50 146.60L105.50 147.35L106.00 147.35L106.00 144.76L106.50 144.76L106.50 146.55L107.00 146.55L107.00 146.24L107.50 146.24L107.50 145.52L108.00 145.52L108.00 144.46L108.50 144.46L108.50 145.84L109.00 145.84L109.00 143.73L109.50 143.73L109.50 145.46L110.00 145.46L110.00 145.94L110.50 145.94L110.50 145.80L111.00 145.80L111.00 146.65L111.50 146.65L111.50 147.72L112.00 147.72L112.00 152.22L112.50 152.22L112.50 155.08L113.00 155.08L113.00 156.57L113.50 156.57L113.50 158.36L114.00 158.36L114.00 159.38L114.50 159.38L114.50 160.50L115.00 160.50L115.00 160.85L115.50 160.85L115.50 161.30L116.00 161.30L116.00 161.49L116.50 161.49L116.50 161.69L117.00 161.69L117.00 161.92L117.50 161.92L117.50 162.04L118.00 162.04L118.00 162.19L118.50 162.19L118.50 162.31L119.00 162.31L119.00 162.38L119.50 162.38L119.50 162.47L120.00 162.47L120.00 163.00Z" fill="rgba(250,105,100,0.786)"/>
<path d="M340.00 163.00L340.00 162.70L340.50 162.70L340.50 162.69L341.00 162.69L341.00 162.65L341.50 162.65L341.50 162.66L342.00 162.66L342.00 162.68L342.50 162.68L342.50 162.65L343.00 162.65L343.00 162.65L343.50 162.65L343.50 162.62L344.00 162.62L344.00 162.64L344.50 162.64L344.50 162.60L345.00 162.60L345.00 162.59L345.50 162.59L345.50 162.55L346.00 162.55L346.00 162.56L346.50 162.56L346.50 162.55L347.00 162.55L347.00 162.57L347.50 162.57L347.50 162.48L348.00 162.48L348.00 162.56L348.50 162.56L348.50 162.48L349.00 162.48L349.00 162.50L349.50 162.50L349.50 162.50L350.00 162.50L350.00 162.48L350.50 162.48L350.50 162.46L351.00 162.46L351.00 162.42L351.50 162.42L351.50 162.42L352.00 162.42L352.00 162.36L352.50 162.36L352.50 162.43L353.00 162.43L353.00 162.36L353.50 162.36L353.50 162.37L354.00 162.37L354.00 162.30L354.50 162.30L354.50 162.37L355.00 162.37L355.00 162.30L355.50 162.30L355.50 162.26L356.00 162.26L356.00 162.30L356.50 162.30L356.50 162.19L357.00 162.19L357.00 162.20L357.50 162.20L357.50 162.15L358.00 162.15L358.00 162.13L358.50 162.13L358.50 162.18L359.00 162.18L359.00 162.15L359.50 162.15L359.50 162.10L360.00 162.10L360.00 162.04L360.50 162.04L360.50 162.01L361.00 162.01L361.00 162.05L361.50 162.05L361.50 162.02L362.00 162.02L362.00 162.00L362.50 162.00L362.50 161.96L363.00 161.96L363.00 161.92L363.50 161.92L363.50 161.88L364.00 161.88L364.00 161.74L364.50 161.74L364.50 161.84L365.00 161.84L365.00 161.79L365.50 161.79L365.50 161.71L366.00 161.71L366.00 161.74L366.50 161.74L366.50 161.66L367.00 161.66L367.00 161.58L367.50 161.58L367.50 161.48L368.00 161.48L368.00 161.56L368.50 161.56L368.50 161.32L369.00 161.32L369.00 161.38L369.50 161.38L369.50 161.28L370.00 161.28L370.00 161.17L370.50 161.17L370.50 161.11L371.00 161.11L371.00 161.01L371.50 161.01L371.50 161.01L372.00 161.01L372.00 160.96L372.50 160.96L372.50 160.85L373.00 160.85L373.00 160.90L373.50 160.90L373.50 160.59L374.00 160.59L374.00 160.72L374.50 160.72L374.50 160.68L375.00 160.68L375.00 160.19L375.50 160.19L375.50 160.29L376.00 160.29L376.00 160.26L376.50 160.26L376.50 159.68L377.00 159.68L377.00 159.80L377.50 159.80L377.50 159.40L378.00 159.40L378.00 159.49L378.50 159.49L378.50 159.18L379.00 159.18L379.00 159.22L379.50 159.22L379.50 159.04L380.00 159.04L380.00 158.61L380.50 158.61L380.50 158.16L381.00 158.16L381.00 157.65L381.50 157.65L381.50 156.90L382.00 156.90L382.00 157.41L382.50 157.41L382.50 156.47L383.00 156.47L383.00 156.53L383.50 156.53L383.50 155.96L384.00 155.96L384.00 155.95L384.50 155.95L384.50 155.44L385.00 155.44L385.00 154.17L385.50 154.17L385.50 153.22L386.00 153.22L386.00 151.34L386.50 151.34L386.50 150.24L387.00 150.24L387.00 147.26L387.50 147.26L387.50 146.02L388.00 146.02L388.00 143.76L388.50 143.76L388.50 140.28L389.00 140.28L389.00 136.68L389.50 136.68L389.50 130.89L390.00 130.89L390.00 122.93L390.50 122.93L390.50 111.14L391.00 111.14L391.00 94.93L391.50 94.93L391.50 82.93L392.00 82.93L392.00 72.88L392.50 72.88L392.50 63.05L393.00 63.05L393.00 65.47L393.50 65.47L393.50 64.05L394.00 64.05L394.00 67.51L394.50 67.51L394.50 63.60L395.00 63.60L395.00 66.88L395.50 66.88L395.50 68.75L396.00 68.75L396.00 70.07L396.50 70.07L396.50 71.85L397.00 71.85L397.00 71.91L397.50 71.91L397.50 69.26L398.00 69.26L398.00 70.24L398.50 70.24L398.50 70.72L399.00 70.72L399.00 67.37L399.50 67.37L399.50 68.73L400.00 68.73L400.00 53.85L400.50 53.85L400.50 60.36L401.00 60.36L401.00 70.04L401.50 70.04L401.50 73.22L402.00 73.22L402.00 80.28L402.50 80.28L402.50 90.50L403.00 90.50L403.00 96.04L403.50 96.04L403.50 100.17L404.00 100.17L404.00 102.87L404.50 102.87L404.50 109.20L405.00 109.20L405.00 112.00L405.50 112.00L405.50 113.29L406.00 113.29L406.00 117.67L406.50 117.67L406.50 122.15L407.00 122.15L407.00 131.94L407.50 131.94L407.50 140.10L408.00 140.10L408.00 142.37L408.50 142.37L408.50 146.18L409.00 146.18L409.00 145.80L409.50 145.80L409.50 145.75L410.00 145.75L410.00 148.56L410.50 148.56L410.50 148.00L411.00 148.00L411.00 149.12L411.50 149.12L411.50 150.62L412.00 150.62L412.00 151.19L412.50 151.19L412.50 151.51L413.00 151.51L413.00 152.33L413.50 152.33L413.50 152.38L414.00 152.38L414.00 152.59L414.50 152.59L414.50 152.61L415.00 152.61L415.00 152.85L415.50 152.85L415.50 153.82L416.00 153.82L416.00 153.45L416.50 153.45L416.50 154.39L417.00 154.39L417.00 154.42L417.50 154.42L417.50 154.48L418.00 154.48L418.00 154.88L418.50 154.88L418.50 155.19L419.00 155.19L419.00 155.33L419.50 155.33L419.50 155.87L420.00 155.87L420.00 156.16L420.50 156.16L420.50 156.26L421.00 156.26L421.00 156.16L421.50 156.16L421.50 156.70L422.00 156.70L422.00 156.38L422.50 156.38L422.50 157.06L423.00 157.06L423.00 158.08L423.50 158.08L423.50 157.63L424.00 157.63L424.00 157.33L424.50 157.33L424.50 157.91L425.00 157.91L425.00 158.16L425.50 158.16L425.50 158.38L426.00 158.38L426.00 158.03L426.50 158.03L426.50 158.22L427.00 158.22L427.00 158.41L427.50 158.41L427.50 158.57L428.00 158.57L428.00 158.49L428.50 158.49L428.50 158.72L429.00 158.72L429.00 159.20L429.50 159.20L429.50 158.94L430.00 158.94L430.00 159.15L430.50 159.15L430.50 159.29L431.00 159.29L431.00 159.24L431.50 159.24L431.50 159.45L432.00 159.45L432.00 160.00L432.50 160.00L432.50 159.40L433.00 159.40L433.00 159.57L433.50 159.57L433.50 159.82L434.00 159.82L434.00 159.93L434.50 159.93L434.50 159.93L435.00 159.93L435.00 160.19L435.50 160.19L435.50 160.02L436.00 160.02L436.00 160.12L436.50 160.12L436.50 160.18L437.00 160.18L437.00 160.28L437.50 160.28L437.50 160.29L438.00 160.29L438.00 160.10L438.50 160.10L438.50 160.11L439.00 160.11L439.00 160.25L439.50 160.25L439.50 160.35L440.00 160.35L440.00 160.48L440.50 160.48L440.50 160.32L441.00 160.32L441.00 160.26L441.50 160.26L441.50 160.66L442.00 160.66L442.00 160.37L442.50 160.37L442.50 160.78L443.00 160.78L443.00 160.61L443.50 160.61L443.50 160.56L444.00 160.56L444.00 160.78L444.50 160.78L444.50 160.82L445.00 160.82L445.00 160.67L445.50 160.67L445.50 160.63L446.00 160.63L446.00 160.80L446.50 160.80L446.50 160.64L447.00 160.64L447.00 160.88L447.50 160.88L447.50 160.66L448.00 160.66L448.00 160.85L448.50 160.85L448.50 160.86L449.00 160.86L449.00 160.86L449.50 160.86L449.50 160.91L450.00 160.91L450.00 160.80L450.50 160.80L450.50 160.79L451.00 160.79L451.00 160.97L451.50 160.97L451.50 161.06L452.00 161.06L452.00 161.17L452.50 161.17L452.50 161.16L453.00 161.16L453.00 161.12L453.50 161.12L453.50 161.15L454.00 161.15L454.00 161.17L454.50 161.17L454.50 161.19L455.00 161.19L455.00 161.17L455.50 161.17L455.50 161.34L456.00 161.34L456.00 161.33L456.50 161.33L456.50 161.18L457.00 161.18L457.00 161.23L457.50 161.23L457.50 161.35L458.00 161.35L458.00 161.23L458.50 161.23L458.50 161.40L459.00 161.40L459.00 161.39L459.50 161.39L459.50 161.52L460.00 161.52L460.00 161.34L460.50 161.34L460.50 161.42L461.00 161.42L461.00 161.36L461.50 161.36L461.50 161.41L462.00 161.41L462.00 161.47L462.50 161.47L462.50 161.48L463.00 161.48L463.00 161.43L463.50 161.43L463.50 161.54L464.00 161.54L464.00 161.55L464.50 161.55L464.50 161.56L465.00 161.56L465.00 161.52L465.50 161.52L465.50 161.53L466.00 161.53L466.00 161.49L466.50 161.49L466.50 161.63L467.00 161.63L467.00 161.56L467.50 161.56L467.50 161.69L468.00 161.69L468.00 161.63L468.50 161.63L468.50 161.68L469.00 161.68L469.00 161.60L469.50 161.60L469.50 161.68L470.00 161.68L470.00 161.75L470.50 161.75L470.50 161.71L471.00 161.71L471.00 161.74L471.50 161.74L471.50 161.79L472.00 161.79L472.00 161.80L472.50 161.80L472.50 161.85L473.00 161.85L473.00 161.67L473.50 161.67L473.50 161.82L474.00 161.82L474.00 161.79L474.50 161.79L474.50 161.91L475.00 161.91L475.00 161.92L475.50 161.92L475.50 161.89L476.00 161.89L476.00 161.90L476.50 161.90L476.50 161.87L477.00 161.87L477.00 161.97L477.50 161.97L477.50 161.91L478.00 161.91L478.00 161.87L478.50 161.87L478.50 162.00L479.00 162.00L479.00 161.93L479.50 161.93L479.50 162.02L480.00 162.02L480.00 161.98L480.50 161.98L480.50 161.99L481.00 161.99L481.00 161.94L481.50 161.94L481.50 162.06L482.00 162.06L482.00 162.03L482.50 162.03L482.50 162.00L483.00 162.00L483.00 162.11L483.50 162.11L483.50 162.07L484.00 162.07L484.00 162.12L484.50 162.12L484.50 162.12L485.00 162.12L485.00 162.08L485.50 162.08L485.50 162.09L486.00 162.09L486.00 162.02L486.50 162.02L486.50 162.08L487.00 162.08L487.00 162.09L487.50 162.09L487.50 162.16L488.00 162.16L488.00 162.18L488.50 162.18L488.50 162.17L489.00 162.17L489.00 162.27L489.50 162.27L489.50 162.13L490.00 162.13L490.00 162.23L490.50 162.23L490.50 162.25L491.00 162.25L491.00 162.23L491.50 162.23L491.50 162.19L492.00 162.19L492.00 162.19L492.50 162.19L492.50 162.25L493.00 162.25L493.00 162.23L493.50 162.23L493.50 162.25L494.00 162.25L494.00 162.29L494.50 162.29L494.50 162.26L495.00 162.26L495.00 162.27L495.50 162.27L495.50 162.33L496.00 162.33L496.00 162.25L496.50 162.25L496.50 162.34L497.00 162.34L497.00 162.29L497.50 162.29L497.50 162.33L498.00 162.33L498.00 162.33L498.50 162.33L498.50 162.33L499.00 162.33L499.00 162.30L499.50 162.30L499.50 162.36L500.00 162.36L500.00 162.34L500.50 162.34L500.50 162.29L501.00 162.29L501.00 162.36L501.50 162.36L501.50 162.35L502.00 162.35L502.00 162.34L502.50 162.34L502.50 162.38L503.00 162.38L503.00 162.35L503.50 162.35L503.50 162.39L504.00 162.39L504.00 162.36L504.50 162.36L504.50 162.38L505.00 162.38L505.00 162.41L505.50 162.41L505.50 162.35L506.00 162.35L506.00 162.40L506.50 162.40L506.50 162.41L507.00 162.41L507.00 162.43L507.50 162.43L507.50 162.43L508.00 162.43L508.00 162.42L508.50 162.42L508.50 162.42L509.00 162.42L509.00 162.40L509.50 162.40L509.50 162.47L510.00 162.47L510.00 162.45L510.50 162.45L510.50 162.42L511.00 162.42L511.00 162.45L511.50 162.45L511.50 162.45L512.00 162.45L512.00 162.42L512.50 162.42L512.50 162.46L513.00 162.46L513.00 162.46L513.50 162.46L513.50 162.48L514.00 162.48L514.00 162.44L514.50 162.44L514.50 162.46L515.00 162.46L515.00 162.50L515.50 162.50L515.50 162.48L516.00 162.48L516.00 162.52L516.50 162.52L516.50 162.48L517.00 162.48L517.00 162.49L517.50 162.49L517.50 162.51L518.00 162.51L518.00 162.52L518.50 162.52L518.50 162.56L519.00 162.56L519.00 162.51L519.50 162.51L519.50 162.53L520.00 162.53L520.00 162.54L520.50 162.54L520.50 162.52L521.00 162.52L521.00 162.55L521.50 162.55L521.50 162.56L522.00 162.56L522.00 162.56L522.50 162.56L522.50 162.58L523.00 162.58L523.00 162.51L523.50 162.51L523.50 162.57L524.00 162.57L524.00 162.57L524.50 162.57L524.50 162.55L525.00 162.55L525.00 162.63L525.50 162.63L525.50 162.58L526.00 162.58L526.00 162.58L526.50 162.58L526.50 162.60L527.00 162.60L527.00 162.58L527.50 162.58L527.50 162.63L528.00 162.63L528.00 162.60L528.50 162.60L528.50 162.58L529.00 162.58L529.00 162.64L529.50 162.64L529.50 162.63L530.00 162.63L530.00 162.61L530.50 162.61L530.50 162.62L531.00 162.62L531.00 162.63L531.50 162.63L531.50 162.62L532.00 162.62L532.00 162.62L532.50 162.62L532.50 162.65L533.00 162.65L533.00 162.64L533.50 162.64L533.50 162.66L534.00 162.66L534.00 162.68L534.50 162.68L534.50 162.68L535.00 162.68L535.00 162.63L535.50 162.63L535.50 162.65L536.00 162.65L536.00 162.62L536.50 162.62L536.50 162.68L537.00 162.68L537.00 162.67L537.50 162.67L537.50 162.66L538.00 162.66L538.00 162.67L538.50 162.67L538.50 162.66L539.00 162.66L539.00 162.67L539.50 162.67L539.50 162.69L540.00 162.69L540.00 162.71L540.50 162.71L540.50 162.70L541.00 162.70L541.00 162.66L541.50 162.66L541.50 162.68L542.00 162.68L542.00 162.67L542.50 162.67L542.50 162.70L543.00 162.70L543.00 162.70L543.50 162.70L543.50 162.71L544.00 162.71L544.00 163.00Z" fill="rgba(110,200,208,0.24)"/>
<path d="M386.00 163.00L386.00 161.82L386.50 161.82L386.50 161.44L387.00 161.44L387.00 161.04L387.50 161.04L387.50 160.35L388.00 160.35L388.00 159.51L388.50 159.51L388.50 157.95L389.00 157.95L389.00 154.26L389.50 154.26L389.50 149.60L390.00 149.60L390.00 138.34L390.50 138.34L390.50 120.26L391.00 120.26L391.00 95.00L391.50 95.00L391.50 84.84L392.00 84.84L392.00 73.61L392.50 73.61L392.50 62.92L393.00 62.92L393.00 63.38L393.50 63.38L393.50 66.43L394.00 66.43L394.00 62.35L394.50 62.35L394.50 65.31L395.00 65.31L395.00 65.51L395.50 65.51L395.50 68.52L396.00 68.52L396.00 68.28L396.50 68.28L396.50 72.39L397.00 72.39L397.00 72.50L397.50 72.50L397.50 70.51L398.00 70.51L398.00 68.20L398.50 68.20L398.50 69.27L399.00 69.27L399.00 66.62L399.50 66.62L399.50 63.48L400.00 63.48L400.00 58.75L400.50 58.75L400.50 57.85L401.00 57.85L401.00 68.26L401.50 68.26L401.50 77.58L402.00 77.58L402.00 83.78L402.50 83.78L402.50 91.41L403.00 91.41L403.00 95.68L403.50 95.68L403.50 102.87L404.00 102.87L404.00 104.49L404.50 104.49L404.50 106.73L405.00 106.73L405.00 114.99L405.50 114.99L405.50 114.52L406.00 114.52L406.00 118.19L406.50 118.19L406.50 124.11L407.00 124.11L407.00 132.14L407.50 132.14L407.50 141.64L408.00 141.64L408.00 150.99L408.50 150.99L408.50 154.64L409.00 154.64L409.00 156.67L409.50 156.67L409.50 158.49L410.00 158.49L410.00 159.42L410.50 159.42L410.50 159.16L411.00 159.16L411.00 159.66L411.50 159.66L411.50 159.99L412.00 159.99L412.00 160.41L412.50 160.41L412.50 160.88L413.00 160.88L413.00 160.91L413.50 160.91L413.50 161.03L414.00 161.03L414.00 161.29L414.50 161.29L414.50 161.46L415.00 161.46L415.00 161.52L415.50 161.52L415.50 161.48L416.00 161.48L416.00 161.67L416.50 161.67L416.50 161.75L417.00 161.75L417.00 161.86L417.50 161.86L417.50 161.80L418.00 161.80L418.00 161.92L418.50 161.92L418.50 162.00L419.00 162.00L419.00 162.06L419.50 162.06L419.50 162.12L420.00 162.12L420.00 162.14L420.50 162.14L420.50 162.12L421.00 162.12L421.00 162.23L421.50 162.23L421.50 162.26L422.00 162.26L422.00 162.34L422.50 162.34L422.50 162.34L423.00 162.34L423.00 162.42L423.50 162.42L423.50 162.38L424.00 162.38L424.00 162.46L424.50 162.46L424.50 162.47L425.00 162.47L425.00 163.00Z" fill="rgba(110,200,208,0.408)"/>
<path d="M360.00 163.00L360.00 162.71L360.50 162.71L360.50 162.70L361.00 162.70L361.00 162.68L361.50 162.68L361.50 162.66L362.00 162.66L362.00 162.63L362.50 162.63L362.50 162.64L363.00 162.64L363.00 162.64L363.50 162.64L363.50 162.63L364.00 162.63L364.00 162.59L364.50 162.59L364.50 162.56L365.00 162.56L365.00 162.57L365.50 162.57L365.50 162.58L366.00 162.58L366.00 162.56L366.50 162.56L366.50 162.49L367.00 162.49L367.00 162.51L367.50 162.51L367.50 162.54L368.00 162.54L368.00 162.48L368.50 162.48L368.50 162.49L369.00 162.49L369.00 162.46L369.50 162.46L369.50 162.44L370.00 162.44L370.00 162.43L370.50 162.43L370.50 162.37L371.00 162.37L371.00 162.37L371.50 162.37L371.50 162.37L372.00 162.37L372.00 162.32L372.50 162.32L372.50 162.28L373.00 162.28L373.00 162.34L373.50 162.34L373.50 162.27L374.00 162.27L374.00 162.27L374.50 162.27L374.50 162.22L375.00 162.22L375.00 162.23L375.50 162.23L375.50 162.14L376.00 162.14L376.00 162.10L376.50 162.10L376.50 162.07L377.00 162.07L377.00 162.06L377.50 162.06L377.50 161.99L378.00 161.99L378.00 161.97L378.50 161.97L378.50 161.94L379.00 161.94L379.00 161.80L379.50 161.80L379.50 161.82L380.00 161.82L380.00 161.63L380.50 161.63L380.50 161.60L381.00 161.60L381.00 161.70L381.50 161.70L381.50 161.49L382.00 161.49L382.00 161.52L382.50 161.52L382.50 161.37L383.00 161.37L383.00 161.29L383.50 161.29L383.50 161.37L384.00 161.37L384.00 161.15L384.50 161.15L384.50 161.07L385.00 161.07L385.00 160.79L385.50 160.79L385.50 160.75L386.00 160.75L386.00 160.24L386.50 160.24L386.50 160.16L387.00 160.16L387.00 159.70L387.50 159.70L387.50 159.38L388.00 159.38L388.00 158.51L388.50 158.51L388.50 158.16L389.00 158.16L389.00 156.95L389.50 156.95L389.50 156.33L390.00 156.33L390.00 154.99L390.50 154.99L390.50 153.48L391.00 153.48L391.00 151.80L391.50 151.80L391.50 147.79L392.00 147.79L392.00 141.55L392.50 141.55L392.50 140.78L393.00 140.78L393.00 139.25L393.50 139.25L393.50 138.52L394.00 138.52L394.00 136.96L394.50 136.96L394.50 137.38L395.00 137.38L395.00 136.41L395.50 136.41L395.50 136.71L396.00 136.71L396.00 138.23L396.50 138.23L396.50 140.27L397.00 140.27L397.00 139.10L397.50 139.10L397.50 141.98L398.00 141.98L398.00 141.89L398.50 141.89L398.50 141.35L399.00 141.35L399.00 138.32L399.50 138.32L399.50 138.85L400.00 138.85L400.00 138.43L400.50 138.43L400.50 137.50L401.00 137.50L401.00 136.91L401.50 136.91L401.50 140.00L402.00 140.00L402.00 143.80L402.50 143.80L402.50 145.02L403.00 145.02L403.00 148.73L403.50 148.73L403.50 149.96L404.00 149.96L404.00 151.17L404.50 151.17L404.50 152.63L405.00 152.63L405.00 153.44L405.50 153.44L405.50 153.67L406.00 153.67L406.00 155.10L406.50 155.10L406.50 156.00L407.00 156.00L407.00 156.75L407.50 156.75L407.50 156.80L408.00 156.80L408.00 157.24L408.50 157.24L408.50 157.36L409.00 157.36L409.00 157.81L409.50 157.81L409.50 158.06L410.00 158.06L410.00 158.35L410.50 158.35L410.50 158.53L411.00 158.53L411.00 158.62L411.50 158.62L411.50 158.93L412.00 158.93L412.00 159.04L412.50 159.04L412.50 158.93L413.00 158.93L413.00 159.35L413.50 159.35L413.50 159.84L414.00 159.84L414.00 159.52L414.50 159.52L414.50 159.88L415.00 159.88L415.00 160.16L415.50 160.16L415.50 159.98L416.00 159.98L416.00 160.17L416.50 160.17L416.50 160.31L417.00 160.31L417.00 160.37L417.50 160.37L417.50 160.47L418.00 160.47L418.00 160.41L418.50 160.41L418.50 160.35L419.00 160.35L419.00 160.57L419.50 160.57L419.50 160.54L420.00 160.54L420.00 160.44L420.50 160.44L420.50 160.82L421.00 160.82L421.00 160.72L421.50 160.72L421.50 160.83L422.00 160.83L422.00 160.95L422.50 160.95L422.50 161.00L423.00 161.00L423.00 160.95L423.50 160.95L423.50 160.96L424.00 160.96L424.00 161.09L424.50 161.09L424.50 161.08L425.00 161.08L425.00 161.07L425.50 161.07L425.50 161.15L426.00 161.15L426.00 161.14L426.50 161.14L426.50 161.22L427.00 161.22L427.00 161.26L427.50 161.26L427.50 161.20L428.00 161.20L428.00 161.33L428.50 161.33L428.50 161.40L429.00 161.40L429.00 161.40L429.50 161.40L429.50 161.55L430.00 161.55L430.00 161.53L430.50 161.53L430.50 161.48L431.00 161.48L431.00 161.51L431.50 161.51L431.50 161.48L432.00 161.48L432.00 161.60L432.50 161.60L432.50 161.71L433.00 161.71L433.00 161.52L433.50 161.52L433.50 161.59L434.00 161.59L434.00 161.74L434.50 161.74L434.50 161.62L435.00 161.62L435.00 161.72L435.50 161.72L435.50 161.84L436.00 161.84L436.00 161.78L436.50 161.78L436.50 161.80L437.00 161.80L437.00 161.71L437.50 161.71L437.50 161.85L438.00 161.85L438.00 161.84L438.50 161.84L438.50 161.86L439.00 161.86L439.00 161.88L439.50 161.88L439.50 161.93L440.00 161.93L440.00 161.89L440.50 161.89L440.50 161.86L441.00 161.86L441.00 161.90L441.50 161.90L441.50 161.99L442.00 161.99L442.00 162.02L442.50 162.02L442.50 161.97L443.00 161.97L443.00 162.03L443.50 162.03L443.50 162.04L444.00 162.04L444.00 162.10L444.50 162.10L444.50 161.95L445.00 161.95L445.00 162.01L445.50 162.01L445.50 162.11L446.00 162.11L446.00 162.04L446.50 162.04L446.50 162.04L447.00 162.04L447.00 162.21L447.50 162.21L447.50 162.14L448.00 162.14L448.00 162.15L448.50 162.15L448.50 162.12L449.00 162.12L449.00 162.17L449.50 162.17L449.50 162.18L450.00 162.18L450.00 162.19L450.50 162.19L450.50 162.13L451.00 162.13L451.00 162.14L451.50 162.14L451.50 162.24L452.00 162.24L452.00 162.27L452.50 162.27L452.50 162.16L453.00 162.16L453.00 162.29L453.50 162.29L453.50 162.29L454.00 162.29L454.00 162.28L454.50 162.28L454.50 162.28L455.00 162.28L455.00 162.27L455.50 162.27L455.50 162.30L456.00 162.30L456.00 162.35L456.50 162.35L456.50 162.32L457.00 162.32L457.00 162.34L457.50 162.34L457.50 162.30L458.00 162.30L458.00 162.37L458.50 162.37L458.50 162.41L459.00 162.41L459.00 162.41L459.50 162.41L459.50 162.36L460.00 162.36L460.00 162.42L460.50 162.42L460.50 162.47L461.00 162.47L461.00 162.43L461.50 162.43L461.50 162.43L462.00 162.43L462.00 162.40L462.50 162.40L462.50 162.47L463.00 162.47L463.00 162.43L463.50 162.43L463.50 162.44L464.00 162.44L464.00 162.48L464.50 162.48L464.50 162.47L465.00 162.47L465.00 162.43L465.50 162.43L465.50 162.44L466.00 162.44L466.00 162.47L466.50 162.47L466.50 162.49L467.00 162.49L467.00 162.48L467.50 162.48L467.50 162.51L468.00 162.51L468.00 162.52L468.50 162.52L468.50 162.54L469.00 162.54L469.00 162.53L469.50 162.53L469.50 162.54L470.00 162.54L470.00 162.48L470.50 162.48L470.50 162.55L471.00 162.55L471.00 162.53L471.50 162.53L471.50 162.53L472.00 162.53L472.00 162.57L472.50 162.57L472.50 162.55L473.00 162.55L473.00 162.62L473.50 162.62L473.50 162.58L474.00 162.58L474.00 162.57L474.50 162.57L474.50 162.64L475.00 162.64L475.00 162.62L475.50 162.62L475.50 162.58L476.00 162.58L476.00 162.61L476.50 162.61L476.50 162.63L477.00 162.63L477.00 162.63L477.50 162.63L477.50 162.63L478.00 162.63L478.00 162.62L478.50 162.62L478.50 162.63L479.00 162.63L479.00 162.64L479.50 162.64L479.50 162.66L480.00 162.66L480.00 162.65L480.50 162.65L480.50 162.63L481.00 162.63L481.00 162.65L481.50 162.65L481.50 162.65L482.00 162.65L482.00 162.67L482.50 162.67L482.50 162.69L483.00 162.69L483.00 162.69L483.50 162.69L483.50 162.67L484.00 162.67L484.00 162.68L484.50 162.68L484.50 162.70L485.00 162.70L485.00 162.72L485.50 162.72L485.50 162.70L486.00 162.70L486.00 162.71L486.50 162.71L486.50 162.71L487.00 162.71L487.00 162.72L487.50 162.72L487.50 162.71L488.00 162.71L488.00 162.72L488.50 162.72L488.50 162.71L489.00 162.71L489.00 162.72L489.50 162.72L489.50 162.71L490.00 162.71L490.00 162.72L490.50 162.72L490.50 162.74L491.00 162.74L491.00 162.74L491.50 162.74L491.50 162.74L492.00 162.74L492.00 162.75L492.50 162.75L492.50 162.75L493.00 162.75L493.00 162.74L493.50 162.74L493.50 162.77L494.00 162.77L494.00 162.78L494.50 162.78L494.50 162.75L495.00 162.75L495.00 162.77L495.50 162.77L495.50 162.77L496.00 162.77L496.00 162.79L496.50 162.79L496.50 162.76L497.00 162.76L497.00 162.78L497.50 162.78L497.50 162.79L498.00 162.79L498.00 162.79L498.50 162.79L498.50 162.79L499.00 162.79L499.00 162.80L499.50 162.80L499.50 162.80L500.00 162.80L500.00 163.00Z" fill="rgba(60,80,200,0.22)"/>
<path d="M387.00 163.00L387.00 161.81L387.50 161.81L387.50 161.21L388.00 161.21L388.00 160.39L388.50 160.39L388.50 159.64L389.00 159.64L389.00 158.56L389.50 158.56L389.50 157.09L390.00 157.09L390.00 155.88L390.50 155.88L390.50 153.75L391.00 153.75L391.00 150.66L391.50 150.66L391.50 147.36L392.00 147.36L392.00 141.79L392.50 141.79L392.50 142.75L393.00 142.75L393.00 138.34L393.50 138.34L393.50 138.67L394.00 138.67L394.00 138.72L394.50 138.72L394.50 137.12L395.00 137.12L395.00 137.65L395.50 137.65L395.50 138.36L396.00 138.36L396.00 140.61L396.50 140.61L396.50 140.02L397.00 140.02L397.00 141.43L397.50 141.43L397.50 141.48L398.00 141.48L398.00 139.87L398.50 139.87L398.50 139.96L399.00 139.96L399.00 140.72L399.50 140.72L399.50 137.95L400.00 137.95L400.00 136.16L400.50 136.16L400.50 136.09L401.00 136.09L401.00 137.38L401.50 137.38L401.50 138.98L402.00 138.98L402.00 143.57L402.50 143.57L402.50 144.69L403.00 144.69L403.00 147.61L403.50 147.61L403.50 149.82L404.00 149.82L404.00 151.20L404.50 151.20L404.50 152.50L405.00 152.50L405.00 153.02L405.50 153.02L405.50 154.92L406.00 154.92L406.00 156.39L406.50 156.39L406.50 156.69L407.00 156.69L407.00 157.29L407.50 157.29L407.50 158.05L408.00 158.05L408.00 158.80L408.50 158.80L408.50 159.42L409.00 159.42L409.00 159.18L409.50 159.18L409.50 159.99L410.00 159.99L410.00 160.13L410.50 160.13L410.50 160.44L411.00 160.44L411.00 160.74L411.50 160.74L411.50 160.94L412.00 160.94L412.00 161.18L412.50 161.18L412.50 161.29L413.00 161.29L413.00 161.38L413.50 161.38L413.50 161.47L414.00 161.47L414.00 161.41L414.50 161.41L414.50 161.73L415.00 161.73L415.00 161.71L415.50 161.71L415.50 161.85L416.00 161.85L416.00 161.96L416.50 161.96L416.50 162.08L417.00 162.08L417.00 162.09L417.50 162.09L417.50 162.20L418.00 162.20L418.00 162.21L418.50 162.21L418.50 162.26L419.00 162.26L419.00 162.37L419.50 162.37L419.50 162.35L420.00 162.35L420.00 163.00Z" fill="rgba(60,80,200,0.551)"/>
<path d="M360.00 163.00L360.00 162.68L360.50 162.68L360.50 162.65L361.00 162.65L361.00 162.70L361.50 162.70L361.50 162.65L362.00 162.65L362.00 162.62L362.50 162.62L362.50 162.60L363.00 162.60L363.00 162.59L363.50 162.59L363.50 162.56L364.00 162.56L364.00 162.57L364.50 162.57L364.50 162.54L365.00 162.54L365.00 162.53L365.50 162.53L365.50 162.54L366.00 162.54L366.00 162.52L366.50 162.52L366.50 162.47L367.00 162.47L367.00 162.47L367.50 162.47L367.50 162.40L368.00 162.40L368.00 162.38L368.50 162.38L368.50 162.34L369.00 162.34L369.00 162.36L369.50 162.36L369.50 162.29L370.00 162.29L370.00 162.34L370.50 162.34L370.50 162.31L371.00 162.31L371.00 162.25L371.50 162.25L371.50 162.21L372.00 162.21L372.00 162.25L372.50 162.25L372.50 162.22L373.00 162.22L373.00 162.11L373.50 162.11L373.50 162.13L374.00 162.13L374.00 162.00L374.50 162.00L374.50 162.00L375.00 162.00L375.00 161.95L375.50 161.95L375.50 161.89L376.00 161.89L376.00 161.79L376.50 161.79L376.50 161.77L377.00 161.77L377.00 161.61L377.50 161.61L377.50 161.63L378.00 161.63L378.00 161.52L378.50 161.52L378.50 161.46L379.00 161.46L379.00 161.27L379.50 161.27L379.50 161.20L380.00 161.20L380.00 161.17L380.50 161.17L380.50 160.79L381.00 160.79L381.00 160.88L381.50 160.88L381.50 160.73L382.00 160.73L382.00 160.53L382.50 160.53L382.50 160.22L383.00 160.22L383.00 160.28L383.50 160.28L383.50 160.00L384.00 160.00L384.00 159.86L384.50 159.86L384.50 159.81L385.00 159.81L385.00 159.15L385.50 159.15L385.50 158.77L386.00 158.77L386.00 158.65L386.50 158.65L386.50 158.21L387.00 158.21L387.00 158.06L387.50 158.06L387.50 157.44L388.00 157.44L388.00 156.41L388.50 156.41L388.50 155.24L389.00 155.24L389.00 154.76L389.50 154.76L389.50 153.56L390.00 153.56L390.00 152.24L390.50 152.24L390.50 151.54L391.00 151.54L391.00 149.01L391.50 149.01L391.50 144.25L392.00 144.25L392.00 145.01L392.50 145.01L392.50 143.22L393.00 143.22L393.00 145.41L393.50 145.41L393.50 143.33L394.00 143.33L394.00 143.45L394.50 143.45L394.50 144.02L395.00 144.02L395.00 144.47L395.50 144.47L395.50 143.63L396.00 143.63L396.00 143.98L396.50 143.98L396.50 143.59L397.00 143.59L397.00 144.51L397.50 144.51L397.50 143.30L398.00 143.30L398.00 144.72L398.50 144.72L398.50 144.14L399.00 144.14L399.00 144.26L399.50 144.26L399.50 142.89L400.00 142.89L400.00 145.31L400.50 145.31L400.50 144.45L401.00 144.45L401.00 143.16L401.50 143.16L401.50 144.78L402.00 144.78L402.00 145.33L402.50 145.33L402.50 144.11L403.00 144.11L403.00 144.65L403.50 144.65L403.50 143.77L404.00 143.77L404.00 145.39L404.50 145.39L404.50 144.73L405.00 144.73L405.00 144.61L405.50 144.61L405.50 144.57L406.00 144.57L406.00 146.50L406.50 146.50L406.50 144.78L407.00 144.78L407.00 149.18L407.50 149.18L407.50 153.37L408.00 153.37L408.00 155.10L408.50 155.10L408.50 156.28L409.00 156.28L409.00 157.35L409.50 157.35L409.50 157.65L410.00 157.65L410.00 158.10L410.50 158.10L410.50 158.55L411.00 158.55L411.00 159.04L411.50 159.04L411.50 159.04L412.00 159.04L412.00 159.92L412.50 159.92L412.50 159.99L413.00 159.99L413.00 159.95L413.50 159.95L413.50 160.18L414.00 160.18L414.00 160.48L414.50 160.48L414.50 160.37L415.00 160.37L415.00 160.48L415.50 160.48L415.50 160.78L416.00 160.78L416.00 160.51L416.50 160.51L416.50 160.56L417.00 160.56L417.00 160.66L417.50 160.66L417.50 160.92L418.00 160.92L418.00 160.94L418.50 160.94L418.50 161.13L419.00 161.13L419.00 161.09L419.50 161.09L419.50 161.24L420.00 161.24L420.00 161.22L420.50 161.22L420.50 161.34L421.00 161.34L421.00 161.31L421.50 161.31L421.50 161.39L422.00 161.39L422.00 161.42L422.50 161.42L422.50 161.67L423.00 161.67L423.00 161.73L423.50 161.73L423.50 161.65L424.00 161.65L424.00 161.76L424.50 161.76L424.50 161.75L425.00 161.75L425.00 161.80L425.50 161.80L425.50 161.83L426.00 161.83L426.00 161.82L426.50 161.82L426.50 161.86L427.00 161.86L427.00 161.89L427.50 161.89L427.50 161.98L428.00 161.98L428.00 161.88L428.50 161.88L428.50 161.98L429.00 161.98L429.00 161.96L429.50 161.96L429.50 162.02L430.00 162.02L430.00 162.00L430.50 162.00L430.50 162.07L431.00 162.07L431.00 162.09L431.50 162.09L431.50 162.11L432.00 162.11L432.00 162.17L432.50 162.17L432.50 162.18L433.00 162.18L433.00 162.18L433.50 162.18L433.50 162.20L434.00 162.20L434.00 162.25L434.50 162.25L434.50 162.15L435.00 162.15L435.00 162.28L435.50 162.28L435.50 162.28L436.00 162.28L436.00 162.21L436.50 162.21L436.50 162.32L437.00 162.32L437.00 162.29L437.50 162.29L437.50 162.31L438.00 162.31L438.00 162.35L438.50 162.35L438.50 162.40L439.00 162.40L439.00 162.42L439.50 162.42L439.50 162.39L440.00 162.39L440.00 162.39L440.50 162.39L440.50 162.47L441.00 162.47L441.00 162.42L441.50 162.42L441.50 162.45L442.00 162.45L442.00 162.42L442.50 162.42L442.50 162.45L443.00 162.45L443.00 162.48L443.50 162.48L443.50 162.48L444.00 162.48L444.00 162.48L444.50 162.48L444.50 162.46L445.00 162.46L445.00 162.43L445.50 162.43L445.50 162.50L446.00 162.50L446.00 162.51L446.50 162.51L446.50 162.51L447.00 162.51L447.00 162.53L447.50 162.53L447.50 162.52L448.00 162.52L448.00 162.54L448.50 162.54L448.50 162.55L449.00 162.55L449.00 162.58L449.50 162.58L449.50 162.56L450.00 162.56L450.00 162.56L450.50 162.56L450.50 162.58L451.00 162.58L451.00 162.56L451.50 162.56L451.50 162.58L452.00 162.58L452.00 162.61L452.50 162.61L452.50 162.58L453.00 162.58L453.00 162.64L453.50 162.64L453.50 162.60L454.00 162.60L454.00 162.60L454.50 162.60L454.50 162.64L455.00 162.64L455.00 162.64L455.50 162.64L455.50 162.63L456.00 162.63L456.00 162.63L456.50 162.63L456.50 162.65L457.00 162.65L457.00 162.66L457.50 162.66L457.50 162.66L458.00 162.66L458.00 162.68L458.50 162.68L458.50 162.70L459.00 162.70L459.00 162.69L459.50 162.69L459.50 162.70L460.00 162.70L460.00 162.72L460.50 162.72L460.50 162.70L461.00 162.70L461.00 162.73L461.50 162.73L461.50 162.71L462.00 162.71L462.00 162.75L462.50 162.75L462.50 162.75L463.00 162.75L463.00 162.76L463.50 162.76L463.50 162.74L464.00 162.74L464.00 162.74L464.50 162.74L464.50 162.75L465.00 162.75L465.00 162.75L465.50 162.75L465.50 162.77L466.00 162.77L466.00 162.77L466.50 162.77L466.50 162.80L467.00 162.80L467.00 162.79L467.50 162.79L467.50 162.80L468.00 162.80L468.00 162.81L468.50 162.81L468.50 162.82L469.00 162.82L469.00 162.80L469.50 162.80L469.50 162.82L470.00 162.82L470.00 162.83L470.50 162.83L470.50 162.82L471.00 162.82L471.00 162.83L471.50 162.83L471.50 162.84L472.00 162.84L472.00 162.84L472.50 162.84L472.50 162.85L473.00 162.85L473.00 162.87L473.50 162.87L473.50 162.86L474.00 162.86L474.00 162.86L474.50 162.86L474.50 162.86L475.00 162.86L475.00 162.86L475.50 162.86L475.50 162.88L476.00 162.88L476.00 162.88L476.50 162.88L476.50 162.88L477.00 162.88L477.00 162.88L477.50 162.88L477.50 162.89L478.00 162.89L478.00 162.89L478.50 162.89L478.50 162.89L479.00 162.89L479.00 162.89L479.50 162.89L479.50 162.90L480.00 162.90L480.00 163.00Z" fill="rgba(250,105,100,0.3)"/>
<path d="M384.00 163.00L384.00 162.10L384.50 162.10L384.50 161.97L385.00 161.97L385.00 161.79L385.50 161.79L385.50 161.62L386.00 161.62L386.00 161.27L386.50 161.27L386.50 161.11L387.00 161.11L387.00 160.39L387.50 160.39L387.50 160.00L388.00 160.00L388.00 159.32L388.50 159.32L388.50 158.69L389.00 158.69L389.00 157.95L389.50 157.95L389.50 156.65L390.00 156.65L390.00 155.04L390.50 155.04L390.50 153.71L391.00 153.71L391.00 150.59L391.50 150.59L391.50 146.10L392.00 146.10L392.00 143.77L392.50 143.77L392.50 143.99L393.00 143.99L393.00 144.72L393.50 144.72L393.50 143.79L394.00 143.79L394.00 144.02L394.50 144.02L394.50 142.86L395.00 142.86L395.00 143.72L395.50 143.72L395.50 143.62L396.00 143.62L396.00 143.17L396.50 143.17L396.50 142.89L397.00 142.89L397.00 143.84L397.50 143.84L397.50 143.90L398.00 143.90L398.00 143.69L398.50 143.69L398.50 143.02L399.00 143.02L399.00 144.73L399.50 144.73L399.50 144.92L400.00 144.92L400.00 141.58L400.50 141.58L400.50 144.23L401.00 144.23L401.00 144.08L401.50 144.08L401.50 145.97L402.00 145.97L402.00 144.67L402.50 144.67L402.50 144.48L403.00 144.48L403.00 144.92L403.50 144.92L403.50 144.84L404.00 144.84L404.00 144.80L404.50 144.80L404.50 144.65L405.00 144.65L405.00 144.42L405.50 144.42L405.50 146.39L406.00 146.39L406.00 146.64L406.50 146.64L406.50 145.49L407.00 145.49L407.00 148.50L407.50 148.50L407.50 153.07L408.00 153.07L408.00 156.35L408.50 156.35L408.50 158.33L409.00 158.33L409.00 159.32L409.50 159.32L409.50 159.78L410.00 159.78L410.00 160.22L410.50 160.22L410.50 160.67L411.00 160.67L411.00 161.17L411.50 161.17L411.50 161.25L412.00 161.25L412.00 161.52L412.50 161.52L412.50 161.70L413.00 161.70L413.00 161.81L413.50 161.81L413.50 161.86L414.00 161.86L414.00 162.02L414.50 162.02L414.50 162.10L415.00 162.10L415.00 162.16L415.50 162.16L415.50 162.19L416.00 162.19L416.00 162.35L416.50 162.35L416.50 162.34L417.00 162.34L417.00 162.48L417.50 162.48L417.50 162.50L418.00 162.50L418.00 163.00Z" fill="rgba(250,105,100,0.786)"/>
<path d="M40.00 392.60L40.00 392.30L40.50 392.30L40.50 392.29L41.00 392.29L41.00 392.29L41.50 392.29L41.50 392.29L42.00 392.29L42.00 392.28L42.50 392.28L42.50 392.28L43.00 392.28L43.00 392.25L43.50 392.25L43.50 392.23L44.00 392.23L44.00 392.25L44.50 392.25L44.50 392.24L45.00 392.24L45.00 392.22L45.50 392.22L45.50 392.21L46.00 392.21L46.00 392.21L46.50 392.21L46.50 392.22L47.00 392.22L47.00 392.19L47.50 392.19L47.50 392.17L48.00 392.17L48.00 392.20L48.50 392.20L48.50 392.18L49.00 392.18L49.00 392.20L49.50 392.20L49.50 392.18L50.00 392.18L50.00 392.18L50.50 392.18L50.50 392.14L51.00 392.14L51.00 392.15L51.50 392.15L51.50 392.11L52.00 392.11L52.00 392.10L52.50 392.10L52.50 392.10L53.00 392.10L53.00 392.14L53.50 392.14L53.50 392.08L54.00 392.08L54.00 392.06L54.50 392.06L54.50 392.05L55.00 392.05L55.00 392.08L55.50 392.08L55.50 392.04L56.00 392.04L56.00 392.04L56.50 392.04L56.50 392.03L57.00 392.03L57.00 391.96L57.50 391.96L57.50 392.00L58.00 392.00L58.00 391.97L58.50 391.97L58.50 391.93L59.00 391.93L59.00 391.96L59.50 391.96L59.50 391.93L60.00 391.93L60.00 391.91L60.50 391.91L60.50 391.90L61.00 391.90L61.00 391.93L61.50 391.93L61.50 391.87L62.00 391.87L62.00 391.81L62.50 391.81L62.50 391.90L63.00 391.90L63.00 391.80L63.50 391.80L63.50 391.81L64.00 391.81L64.00 391.82L64.50 391.82L64.50 391.71L65.00 391.71L65.00 391.74L65.50 391.74L65.50 391.80L66.00 391.80L66.00 391.73L66.50 391.73L66.50 391.69L67.00 391.69L67.00 391.71L67.50 391.71L67.50 391.65L68.00 391.65L68.00 391.67L68.50 391.67L68.50 391.62L69.00 391.62L69.00 391.57L69.50 391.57L69.50 391.64L70.00 391.64L70.00 391.57L70.50 391.57L70.50 391.56L71.00 391.56L71.00 391.50L71.50 391.50L71.50 391.52L72.00 391.52L72.00 391.45L72.50 391.45L72.50 391.38L73.00 391.38L73.00 391.28L73.50 391.28L73.50 391.21L74.00 391.21L74.00 391.31L74.50 391.31L74.50 391.23L75.00 391.23L75.00 391.08L75.50 391.08L75.50 391.21L76.00 391.21L76.00 391.05L76.50 391.05L76.50 390.96L77.00 390.96L77.00 390.80L77.50 390.80L77.50 390.77L78.00 390.77L78.00 390.79L78.50 390.79L78.50 390.73L79.00 390.73L79.00 390.65L79.50 390.65L79.50 390.41L80.00 390.41L80.00 390.52L80.50 390.52L80.50 390.43L81.00 390.43L81.00 390.28L81.50 390.28L81.50 390.24L82.00 390.24L82.00 390.16L82.50 390.16L82.50 390.18L83.00 390.18L83.00 389.96L83.50 389.96L83.50 389.91L84.00 389.91L84.00 389.61L84.50 389.61L84.50 389.57L85.00 389.57L85.00 389.53L85.50 389.53L85.50 389.26L86.00 389.26L86.00 389.24L86.50 389.24L86.50 388.84L87.00 388.84L87.00 388.82L87.50 388.82L87.50 388.52L88.00 388.52L88.00 388.66L88.50 388.66L88.50 388.13L89.00 388.13L89.00 388.32L89.50 388.32L89.50 388.17L90.00 388.17L90.00 387.47L90.50 387.47L90.50 387.20L91.00 387.20L91.00 386.47L91.50 386.47L91.50 385.36L92.00 385.36L92.00 385.75L92.50 385.75L92.50 385.12L93.00 385.12L93.00 384.34L93.50 384.34L93.50 383.83L94.00 383.83L94.00 383.69L94.50 383.69L94.50 383.27L95.00 383.27L95.00 382.43L95.50 382.43L95.50 380.85L96.00 380.85L96.00 379.27L96.50 379.27L96.50 375.63L97.00 375.63L97.00 371.83L97.50 371.83L97.50 369.40L98.00 369.40L98.00 364.11L98.50 364.11L98.50 361.31L99.00 361.31L99.00 353.51L99.50 353.51L99.50 349.14L100.00 349.14L100.00 339.02L100.50 339.02L100.50 325.24L101.00 325.24L101.00 312.80L101.50 312.80L101.50 303.02L102.00 303.02L102.00 289.81L102.50 289.81L102.50 291.29L103.00 291.29L103.00 299.23L103.50 299.23L103.50 294.80L104.00 294.80L104.00 299.27L104.50 299.27L104.50 295.59L105.00 295.59L105.00 298.47L105.50 298.47L105.50 296.19L106.00 296.19L106.00 297.25L106.50 297.25L106.50 299.63L107.00 299.63L107.00 294.89L107.50 294.89L107.50 294.30L108.00 294.30L108.00 296.42L108.50 296.42L108.50 296.47L109.00 296.47L109.00 296.00L109.50 296.00L109.50 284.57L110.00 284.57L110.00 281.25L110.50 281.25L110.50 296.86L111.00 296.86L111.00 296.84L111.50 296.84L111.50 298.79L112.00 298.79L112.00 330.78L112.50 330.78L112.50 344.77L113.00 344.77L113.00 348.33L113.50 348.33L113.50 355.58L114.00 355.58L114.00 357.58L114.50 357.58L114.50 361.73L115.00 361.73L115.00 365.12L115.50 365.12L115.50 366.91L116.00 366.91L116.00 369.25L116.50 369.25L116.50 370.59L117.00 370.59L117.00 372.73L117.50 372.73L117.50 374.29L118.00 374.29L118.00 376.61L118.50 376.61L118.50 377.52L119.00 377.52L119.00 377.02L119.50 377.02L119.50 379.45L120.00 379.45L120.00 380.53L120.50 380.53L120.50 380.58L121.00 380.58L121.00 380.83L121.50 380.83L121.50 382.93L122.00 382.93L122.00 382.91L122.50 382.91L122.50 383.51L123.00 383.51L123.00 384.36L123.50 384.36L123.50 383.76L124.00 383.76L124.00 384.43L124.50 384.43L124.50 384.75L125.00 384.75L125.00 385.37L125.50 385.37L125.50 385.30L126.00 385.30L126.00 385.86L126.50 385.86L126.50 385.93L127.00 385.93L127.00 386.40L127.50 386.40L127.50 386.60L128.00 386.60L128.00 386.06L128.50 386.06L128.50 386.74L129.00 386.74L129.00 386.69L129.50 386.69L129.50 386.94L130.00 386.94L130.00 387.19L130.50 387.19L130.50 387.36L131.00 387.36L131.00 387.24L131.50 387.24L131.50 387.60L132.00 387.60L132.00 387.69L132.50 387.69L132.50 387.76L133.00 387.76L133.00 387.62L133.50 387.62L133.50 387.83L134.00 387.83L134.00 388.00L134.50 388.00L134.50 388.29L135.00 388.29L135.00 388.54L135.50 388.54L135.50 388.19L136.00 388.19L136.00 388.28L136.50 388.28L136.50 388.58L137.00 388.58L137.00 388.55L137.50 388.55L137.50 388.59L138.00 388.59L138.00 388.67L138.50 388.67L138.50 388.75L139.00 388.75L139.00 389.05L139.50 389.05L139.50 388.82L140.00 388.82L140.00 389.32L140.50 389.32L140.50 389.04L141.00 389.04L141.00 389.14L141.50 389.14L141.50 389.14L142.00 389.14L142.00 389.04L142.50 389.04L142.50 389.14L143.00 389.14L143.00 389.57L143.50 389.57L143.50 389.69L144.00 389.69L144.00 389.38L144.50 389.38L144.50 389.67L145.00 389.67L145.00 389.58L145.50 389.58L145.50 389.51L146.00 389.51L146.00 389.88L146.50 389.88L146.50 389.98L147.00 389.98L147.00 389.71L147.50 389.71L147.50 389.78L148.00 389.78L148.00 389.85L148.50 389.85L148.50 389.85L149.00 389.85L149.00 390.00L149.50 390.00L149.50 390.12L150.00 390.12L150.00 389.99L150.50 389.99L150.50 390.12L151.00 390.12L151.00 390.23L151.50 390.23L151.50 390.02L152.00 390.02L152.00 390.12L152.50 390.12L152.50 390.11L153.00 390.11L153.00 390.29L153.50 390.29L153.50 390.29L154.00 390.29L154.00 390.36L154.50 390.36L154.50 390.38L155.00 390.38L155.00 390.29L155.50 390.29L155.50 390.42L156.00 390.42L156.00 390.34L156.50 390.34L156.50 390.37L157.00 390.37L157.00 390.23L157.50 390.23L157.50 390.59L158.00 390.59L158.00 390.40L158.50 390.40L158.50 390.52L159.00 390.52L159.00 390.54L159.50 390.54L159.50 390.70L160.00 390.70L160.00 390.63L160.50 390.63L160.50 390.55L161.00 390.55L161.00 390.65L161.50 390.65L161.50 390.66L162.00 390.66L162.00 390.72L162.50 390.72L162.50 390.62L163.00 390.62L163.00 390.74L163.50 390.74L163.50 390.95L164.00 390.95L164.00 390.85L164.50 390.85L164.50 390.97L165.00 390.97L165.00 391.09L165.50 391.09L165.50 390.90L166.00 390.90L166.00 390.78L166.50 390.78L166.50 390.90L167.00 390.90L167.00 391.01L167.50 391.01L167.50 391.02L168.00 391.02L168.00 390.89L168.50 390.89L168.50 390.98L169.00 390.98L169.00 391.01L169.50 391.01L169.50 391.03L170.00 391.03L170.00 391.05L170.50 391.05L170.50 391.02L171.00 391.02L171.00 391.05L171.50 391.05L171.50 391.10L172.00 391.10L172.00 391.20L172.50 391.20L172.50 391.12L173.00 391.12L173.00 391.21L173.50 391.21L173.50 391.12L174.00 391.12L174.00 391.28L174.50 391.28L174.50 391.23L175.00 391.23L175.00 391.24L175.50 391.24L175.50 391.34L176.00 391.34L176.00 391.17L176.50 391.17L176.50 391.21L177.00 391.21L177.00 391.34L177.50 391.34L177.50 391.28L178.00 391.28L178.00 391.32L178.50 391.32L178.50 391.51L179.00 391.51L179.00 391.36L179.50 391.36L179.50 391.40L180.00 391.40L180.00 391.40L180.50 391.40L180.50 391.48L181.00 391.48L181.00 391.45L181.50 391.45L181.50 391.45L182.00 391.45L182.00 391.40L182.50 391.40L182.50 391.45L183.00 391.45L183.00 391.48L183.50 391.48L183.50 391.42L184.00 391.42L184.00 391.53L184.50 391.53L184.50 391.54L185.00 391.54L185.00 391.62L185.50 391.62L185.50 391.46L186.00 391.46L186.00 391.50L186.50 391.50L186.50 391.52L187.00 391.52L187.00 391.54L187.50 391.54L187.50 391.58L188.00 391.58L188.00 391.58L188.50 391.58L188.50 391.62L189.00 391.62L189.00 391.63L189.50 391.63L189.50 391.62L190.00 391.62L190.00 391.57L190.50 391.57L190.50 391.62L191.00 391.62L191.00 391.66L191.50 391.66L191.50 391.69L192.00 391.69L192.00 391.70L192.50 391.70L192.50 391.62L193.00 391.62L193.00 391.68L193.50 391.68L193.50 391.70L194.00 391.70L194.00 391.73L194.50 391.73L194.50 391.77L195.00 391.77L195.00 391.74L195.50 391.74L195.50 391.71L196.00 391.71L196.00 391.77L196.50 391.77L196.50 391.77L197.00 391.77L197.00 391.78L197.50 391.78L197.50 391.78L198.00 391.78L198.00 391.85L198.50 391.85L198.50 391.81L199.00 391.81L199.00 391.84L199.50 391.84L199.50 391.79L200.00 391.79L200.00 391.85L200.50 391.85L200.50 391.81L201.00 391.81L201.00 391.79L201.50 391.79L201.50 391.86L202.00 391.86L202.00 391.88L202.50 391.88L202.50 391.86L203.00 391.86L203.00 391.87L203.50 391.87L203.50 391.91L204.00 391.91L204.00 391.88L204.50 391.88L204.50 391.83L205.00 391.83L205.00 391.91L205.50 391.91L205.50 391.92L206.00 391.92L206.00 391.95L206.50 391.95L206.50 391.92L207.00 391.92L207.00 391.97L207.50 391.97L207.50 391.98L208.00 391.98L208.00 391.91L208.50 391.91L208.50 391.98L209.00 391.98L209.00 391.93L209.50 391.93L209.50 391.93L210.00 391.93L210.00 391.97L210.50 391.97L210.50 391.97L211.00 391.97L211.00 391.94L211.50 391.94L211.50 392.00L212.00 392.00L212.00 392.02L212.50 392.02L212.50 392.05L213.00 392.05L213.00 392.02L213.50 392.02L213.50 391.99L214.00 391.99L214.00 392.01L214.50 392.01L214.50 392.06L215.00 392.06L215.00 392.07L215.50 392.07L215.50 392.06L216.00 392.06L216.00 392.05L216.50 392.05L216.50 392.07L217.00 392.07L217.00 392.06L217.50 392.06L217.50 392.07L218.00 392.07L218.00 392.09L218.50 392.09L218.50 392.09L219.00 392.09L219.00 392.09L219.50 392.09L219.50 392.10L220.00 392.10L220.00 392.09L220.50 392.09L220.50 392.07L221.00 392.07L221.00 392.10L221.50 392.10L221.50 392.12L222.00 392.12L222.00 392.16L222.50 392.16L222.50 392.12L223.00 392.12L223.00 392.18L223.50 392.18L223.50 392.17L224.00 392.17L224.00 392.13L224.50 392.13L224.50 392.14L225.00 392.14L225.00 392.16L225.50 392.16L225.50 392.20L226.00 392.20L226.00 392.18L226.50 392.18L226.50 392.19L227.00 392.19L227.00 392.17L227.50 392.17L227.50 392.14L228.00 392.14L228.00 392.18L228.50 392.18L228.50 392.21L229.00 392.21L229.00 392.22L229.50 392.22L229.50 392.20L230.00 392.20L230.00 392.21L230.50 392.21L230.50 392.23L231.00 392.23L231.00 392.22L231.50 392.22L231.50 392.24L232.00 392.24L232.00 392.21L232.50 392.21L232.50 392.21L233.00 392.21L233.00 392.22L233.50 392.22L233.50 392.25L234.00 392.25L234.00 392.24L234.50 392.24L234.50 392.25L235.00 392.25L235.00 392.26L235.50 392.26L235.50 392.26L236.00 392.26L236.00 392.28L236.50 392.28L236.50 392.29L237.00 392.29L237.00 392.26L237.50 392.26L237.50 392.28L238.00 392.28L238.00 392.27L238.50 392.27L238.50 392.27L239.00 392.27L239.00 392.31L239.50 392.31L239.50 392.30L240.00 392.30L240.00 392.29L240.50 392.29L240.50 392.29L241.00 392.29L241.00 392.31L241.50 392.31L241.50 392.29L242.00 392.29L242.00 392.30L242.50 392.30L242.50 392.33L243.00 392.33L243.00 392.33L243.50 392.33L243.50 392.31L244.00 392.31L244.00 392.32L244.50 392.32L244.50 392.35L245.00 392.35L245.00 392.31L245.50 392.31L245.50 392.33L246.00 392.33L246.00 392.32L246.50 392.32L246.50 392.34L247.00 392.34L247.00 392.35L247.50 392.35L247.50 392.36L248.00 392.36L248.00 392.32L248.50 392.32L248.50 392.35L249.00 392.35L249.00 392.34L249.50 392.34L249.50 392.37L250.00 392.37L250.00 392.36L250.50 392.36L250.50 392.38L251.00 392.38L251.00 392.37L251.50 392.37L251.50 392.36L252.00 392.36L252.00 392.39L252.50 392.39L252.50 392.37L253.00 392.37L253.00 392.38L253.50 392.38L253.50 392.39L254.00 392.39L254.00 392.39L254.50 392.39L254.50 392.39L255.00 392.39L255.00 392.39L255.50 392.39L255.50 392.40L256.00 392.40L256.00 392.40L256.50 392.40L256.50 392.40L257.00 392.40L257.00 392.60Z" fill="rgba(110,200,208,0.24)"/>
<path d="M97.00 392.60L97.00 390.05L97.50 390.05L97.50 389.00L98.00 389.00L98.00 386.46L98.50 386.46L98.50 382.22L99.00 382.22L99.00 378.17L99.50 378.17L99.50 366.15L100.00 366.15L100.00 351.83L100.50 351.83L100.50 323.28L101.00 323.28L101.00 313.32L101.50 313.32L101.50 300.79L102.00 300.79L102.00 285.27L102.50 285.27L102.50 289.76L103.00 289.76L103.00 296.36L103.50 296.36L103.50 299.34L104.00 299.34L104.00 299.14L104.50 299.14L104.50 296.03L105.00 296.03L105.00 296.32L105.50 296.32L105.50 299.73L106.00 299.73L106.00 295.39L106.50 295.39L106.50 296.27L107.00 296.27L107.00 297.71L107.50 297.71L107.50 296.79L108.00 296.79L108.00 295.98L108.50 295.98L108.50 296.95L109.00 296.95L109.00 294.58L109.50 294.58L109.50 283.26L110.00 283.26L110.00 283.24L110.50 283.24L110.50 294.45L111.00 294.45L111.00 295.99L111.50 295.99L111.50 299.92L112.00 299.92L112.00 329.74L112.50 329.74L112.50 348.08L113.00 348.08L113.00 356.73L113.50 356.73L113.50 363.89L114.00 363.89L114.00 371.86L114.50 371.86L114.50 374.49L115.00 374.49L115.00 377.91L115.50 377.91L115.50 381.40L116.00 381.40L116.00 383.84L116.50 383.84L116.50 384.90L117.00 384.90L117.00 386.00L117.50 386.00L117.50 387.02L118.00 387.02L118.00 387.75L118.50 387.75L118.50 388.52L119.00 388.52L119.00 388.92L119.50 388.92L119.50 389.13L120.00 389.13L120.00 389.20L120.50 389.20L120.50 389.89L121.00 389.89L121.00 390.22L121.50 390.22L121.50 390.42L122.00 390.42L122.00 390.53L122.50 390.53L122.50 390.83L123.00 390.83L123.00 391.17L123.50 391.17L123.50 391.15L124.00 391.15L124.00 391.28L124.50 391.28L124.50 391.41L125.00 391.41L125.00 391.52L125.50 391.52L125.50 391.59L126.00 391.59L126.00 391.52L126.50 391.52L126.50 391.68L127.00 391.68L127.00 391.78L127.50 391.78L127.50 391.90L128.00 391.90L128.00 391.93L128.50 391.93L128.50 391.96L129.00 391.96L129.00 392.03L129.50 392.03L129.50 392.08L130.00 392.08L130.00 392.60Z" fill="rgba(110,200,208,0.408)"/>
<path d="M40.00 392.60L40.00 392.31L40.50 392.31L40.50 392.29L41.00 392.29L41.00 392.31L41.50 392.31L41.50 392.27L42.00 392.27L42.00 392.25L42.50 392.25L42.50 392.27L43.00 392.27L43.00 392.25L43.50 392.25L43.50 392.24L44.00 392.24L44.00 392.25L44.50 392.25L44.50 392.25L45.00 392.25L45.00 392.26L45.50 392.26L45.50 392.19L46.00 392.19L46.00 392.21L46.50 392.21L46.50 392.16L47.00 392.16L47.00 392.18L47.50 392.18L47.50 392.18L48.00 392.18L48.00 392.19L48.50 392.19L48.50 392.14L49.00 392.14L49.00 392.17L49.50 392.17L49.50 392.12L50.00 392.12L50.00 392.15L50.50 392.15L50.50 392.13L51.00 392.13L51.00 392.15L51.50 392.15L51.50 392.06L52.00 392.06L52.00 392.10L52.50 392.10L52.50 392.10L53.00 392.10L53.00 392.06L53.50 392.06L53.50 392.09L54.00 392.09L54.00 392.04L54.50 392.04L54.50 392.08L55.00 392.08L55.00 392.02L55.50 392.02L55.50 392.05L56.00 392.05L56.00 392.06L56.50 392.06L56.50 392.02L57.00 392.02L57.00 392.03L57.50 392.03L57.50 391.96L58.00 391.96L58.00 391.97L58.50 391.97L58.50 391.94L59.00 391.94L59.00 391.94L59.50 391.94L59.50 391.94L60.00 391.94L60.00 391.91L60.50 391.91L60.50 391.87L61.00 391.87L61.00 391.89L61.50 391.89L61.50 391.90L62.00 391.90L62.00 391.89L62.50 391.89L62.50 391.85L63.00 391.85L63.00 391.86L63.50 391.86L63.50 391.75L64.00 391.75L64.00 391.84L64.50 391.84L64.50 391.82L65.00 391.82L65.00 391.78L65.50 391.78L65.50 391.73L66.00 391.73L66.00 391.75L66.50 391.75L66.50 391.76L67.00 391.76L67.00 391.73L67.50 391.73L67.50 391.70L68.00 391.70L68.00 391.62L68.50 391.62L68.50 391.69L69.00 391.69L69.00 391.63L69.50 391.63L69.50 391.64L70.00 391.64L70.00 391.57L70.50 391.57L70.50 391.53L71.00 391.53L71.00 391.58L71.50 391.58L71.50 391.35L72.00 391.35L72.00 391.42L72.50 391.42L72.50 391.42L73.00 391.42L73.00 391.40L73.50 391.40L73.50 391.32L74.00 391.32L74.00 391.25L74.50 391.25L74.50 391.17L75.00 391.17L75.00 391.16L75.50 391.16L75.50 391.07L76.00 391.07L76.00 391.17L76.50 391.17L76.50 391.05L77.00 391.05L77.00 391.02L77.50 391.02L77.50 390.87L78.00 390.87L78.00 390.79L78.50 390.79L78.50 390.89L79.00 390.89L79.00 390.71L79.50 390.71L79.50 390.57L80.00 390.57L80.00 390.47L80.50 390.47L80.50 390.57L81.00 390.57L81.00 390.31L81.50 390.31L81.50 390.24L82.00 390.24L82.00 390.22L82.50 390.22L82.50 389.83L83.00 389.83L83.00 390.08L83.50 390.08L83.50 389.86L84.00 389.86L84.00 389.65L84.50 389.65L84.50 389.55L85.00 389.55L85.00 389.47L85.50 389.47L85.50 389.10L86.00 389.10L86.00 388.94L86.50 388.94L86.50 388.86L87.00 388.86L87.00 388.68L87.50 388.68L87.50 388.69L88.00 388.69L88.00 388.73L88.50 388.73L88.50 387.94L89.00 387.94L89.00 388.37L89.50 388.37L89.50 387.54L90.00 387.54L90.00 387.84L90.50 387.84L90.50 387.57L91.00 387.57L91.00 387.46L91.50 387.46L91.50 386.98L92.00 386.98L92.00 387.10L92.50 387.10L92.50 386.20L93.00 386.20L93.00 386.26L93.50 386.26L93.50 386.05L94.00 386.05L94.00 385.96L94.50 385.96L94.50 385.37L95.00 385.37L95.00 385.11L95.50 385.11L95.50 380.82L96.00 380.82L96.00 374.02L96.50 374.02L96.50 368.55L97.00 368.55L97.00 361.61L97.50 361.61L97.50 364.55L98.00 364.55L98.00 356.74L98.50 356.74L98.50 359.81L99.00 359.81L99.00 354.02L99.50 354.02L99.50 349.36L100.00 349.36L100.00 342.97L100.50 342.97L100.50 334.53L101.00 334.53L101.00 319.83L101.50 319.83L101.50 314.73L102.00 314.73L102.00 307.40L102.50 307.40L102.50 299.71L103.00 299.71L103.00 304.68L103.50 304.68L103.50 305.46L104.00 305.46L104.00 308.59L104.50 308.59L104.50 313.91L105.00 313.91L105.00 316.74L105.50 316.74L105.50 320.05L106.00 320.05L106.00 322.83L106.50 322.83L106.50 323.74L107.00 323.74L107.00 326.17L107.50 326.17L107.50 329.12L108.00 329.12L108.00 329.65L108.50 329.65L108.50 333.00L109.00 333.00L109.00 334.35L109.50 334.35L109.50 335.72L110.00 335.72L110.00 333.86L110.50 333.86L110.50 333.52L111.00 333.52L111.00 336.97L111.50 336.97L111.50 345.21L112.00 345.21L112.00 350.70L112.50 350.70L112.50 356.99L113.00 356.99L113.00 363.85L113.50 363.85L113.50 369.43L114.00 369.43L114.00 371.20L114.50 371.20L114.50 373.45L115.00 373.45L115.00 377.11L115.50 377.11L115.50 377.53L116.00 377.53L116.00 379.60L116.50 379.60L116.50 380.06L117.00 380.06L117.00 380.51L117.50 380.51L117.50 381.16L118.00 381.16L118.00 382.54L118.50 382.54L118.50 383.81L119.00 383.81L119.00 384.43L119.50 384.43L119.50 384.75L120.00 384.75L120.00 385.73L120.50 385.73L120.50 385.87L121.00 385.87L121.00 386.08L121.50 386.08L121.50 386.39L122.00 386.39L122.00 387.08L122.50 387.08L122.50 387.25L123.00 387.25L123.00 387.35L123.50 387.35L123.50 387.89L124.00 387.89L124.00 388.50L124.50 388.50L124.50 388.23L125.00 388.23L125.00 388.33L125.50 388.33L125.50 388.56L126.00 388.56L126.00 388.58L126.50 388.58L126.50 388.94L127.00 388.94L127.00 388.57L127.50 388.57L127.50 388.81L128.00 388.81L128.00 389.06L128.50 389.06L128.50 389.02L129.00 389.02L129.00 389.13L129.50 389.13L129.50 389.37L130.00 389.37L130.00 389.71L130.50 389.71L130.50 389.81L131.00 389.81L131.00 389.20L131.50 389.20L131.50 389.71L132.00 389.71L132.00 389.68L132.50 389.68L132.50 389.63L133.00 389.63L133.00 389.82L133.50 389.82L133.50 389.69L134.00 389.69L134.00 390.02L134.50 390.02L134.50 389.91L135.00 389.91L135.00 390.28L135.50 390.28L135.50 390.01L136.00 390.01L136.00 390.08L136.50 390.08L136.50 390.17L137.00 390.17L137.00 390.24L137.50 390.24L137.50 390.30L138.00 390.30L138.00 390.29L138.50 390.29L138.50 390.34L139.00 390.34L139.00 390.57L139.50 390.57L139.50 390.44L140.00 390.44L140.00 390.67L140.50 390.67L140.50 390.62L141.00 390.62L141.00 390.70L141.50 390.70L141.50 390.69L142.00 390.69L142.00 390.80L142.50 390.80L142.50 390.78L143.00 390.78L143.00 390.90L143.50 390.90L143.50 390.97L144.00 390.97L144.00 390.86L144.50 390.86L144.50 390.94L145.00 390.94L145.00 390.98L145.50 390.98L145.50 390.97L146.00 390.97L146.00 391.14L146.50 391.14L146.50 391.03L147.00 391.03L147.00 391.18L147.50 391.18L147.50 391.11L148.00 391.11L148.00 391.17L148.50 391.17L148.50 391.17L149.00 391.17L149.00 391.16L149.50 391.16L149.50 391.23L150.00 391.23L150.00 391.31L150.50 391.31L150.50 391.22L151.00 391.22L151.00 391.23L151.50 391.23L151.50 391.28L152.00 391.28L152.00 391.28L152.50 391.28L152.50 391.46L153.00 391.46L153.00 391.37L153.50 391.37L153.50 391.40L154.00 391.40L154.00 391.52L154.50 391.52L154.50 391.43L155.00 391.43L155.00 391.46L155.50 391.46L155.50 391.55L156.00 391.55L156.00 391.53L156.50 391.53L156.50 391.51L157.00 391.51L157.00 391.50L157.50 391.50L157.50 391.51L158.00 391.51L158.00 391.62L158.50 391.62L158.50 391.63L159.00 391.63L159.00 391.62L159.50 391.62L159.50 391.62L160.00 391.62L160.00 391.66L160.50 391.66L160.50 391.65L161.00 391.65L161.00 391.63L161.50 391.63L161.50 391.65L162.00 391.65L162.00 391.69L162.50 391.69L162.50 391.75L163.00 391.75L163.00 391.74L163.50 391.74L163.50 391.71L164.00 391.71L164.00 391.72L164.50 391.72L164.50 391.73L165.00 391.73L165.00 391.82L165.50 391.82L165.50 391.81L166.00 391.81L166.00 391.85L166.50 391.85L166.50 391.92L167.00 391.92L167.00 391.87L167.50 391.87L167.50 391.91L168.00 391.91L168.00 391.81L168.50 391.81L168.50 391.85L169.00 391.85L169.00 391.90L169.50 391.90L169.50 391.89L170.00 391.89L170.00 391.89L170.50 391.89L170.50 391.86L171.00 391.86L171.00 391.90L171.50 391.90L171.50 391.88L172.00 391.88L172.00 391.92L172.50 391.92L172.50 391.91L173.00 391.91L173.00 391.91L173.50 391.91L173.50 391.93L174.00 391.93L174.00 391.97L174.50 391.97L174.50 391.94L175.00 391.94L175.00 391.99L175.50 391.99L175.50 391.95L176.00 391.95L176.00 392.00L176.50 392.00L176.50 392.02L177.00 392.02L177.00 391.96L177.50 391.96L177.50 392.03L178.00 392.03L178.00 392.02L178.50 392.02L178.50 392.06L179.00 392.06L179.00 392.06L179.50 392.06L179.50 392.05L180.00 392.05L180.00 392.08L180.50 392.08L180.50 392.03L181.00 392.03L181.00 392.08L181.50 392.08L181.50 392.10L182.00 392.10L182.00 392.05L182.50 392.05L182.50 392.07L183.00 392.07L183.00 392.14L183.50 392.14L183.50 392.11L184.00 392.11L184.00 392.08L184.50 392.08L184.50 392.12L185.00 392.12L185.00 392.12L185.50 392.12L185.50 392.12L186.00 392.12L186.00 392.17L186.50 392.17L186.50 392.15L187.00 392.15L187.00 392.12L187.50 392.12L187.50 392.11L188.00 392.11L188.00 392.15L188.50 392.15L188.50 392.16L189.00 392.16L189.00 392.15L189.50 392.15L189.50 392.16L190.00 392.16L190.00 392.16L190.50 392.16L190.50 392.19L191.00 392.19L191.00 392.18L191.50 392.18L191.50 392.18L192.00 392.18L192.00 392.18L192.50 392.18L192.50 392.22L193.00 392.22L193.00 392.18L193.50 392.18L193.50 392.20L194.00 392.20L194.00 392.21L194.50 392.21L194.50 392.24L195.00 392.24L195.00 392.22L195.50 392.22L195.50 392.25L196.00 392.25L196.00 392.27L196.50 392.27L196.50 392.23L197.00 392.23L197.00 392.24L197.50 392.24L197.50 392.24L198.00 392.24L198.00 392.24L198.50 392.24L198.50 392.25L199.00 392.25L199.00 392.24L199.50 392.24L199.50 392.25L200.00 392.25L200.00 392.24L200.50 392.24L200.50 392.23L201.00 392.23L201.00 392.26L201.50 392.26L201.50 392.26L202.00 392.26L202.00 392.25L202.50 392.25L202.50 392.30L203.00 392.30L203.00 392.29L203.50 392.29L203.50 392.29L204.00 392.29L204.00 392.32L204.50 392.32L204.50 392.29L205.00 392.29L205.00 392.28L205.50 392.28L205.50 392.32L206.00 392.32L206.00 392.32L206.50 392.32L206.50 392.30L207.00 392.30L207.00 392.30L207.50 392.30L207.50 392.34L208.00 392.34L208.00 392.32L208.50 392.32L208.50 392.33L209.00 392.33L209.00 392.36L209.50 392.36L209.50 392.34L210.00 392.34L210.00 392.35L210.50 392.35L210.50 392.34L211.00 392.34L211.00 392.35L211.50 392.35L211.50 392.35L212.00 392.35L212.00 392.35L212.50 392.35L212.50 392.36L213.00 392.36L213.00 392.35L213.50 392.35L213.50 392.35L214.00 392.35L214.00 392.36L214.50 392.36L214.50 392.38L215.00 392.38L215.00 392.38L215.50 392.38L215.50 392.38L216.00 392.38L216.00 392.36L216.50 392.36L216.50 392.38L217.00 392.38L217.00 392.39L217.50 392.39L217.50 392.40L218.00 392.40L218.00 392.40L218.50 392.40L218.50 392.39L219.00 392.39L219.00 392.41L219.50 392.41L219.50 392.40L220.00 392.40L220.00 392.60Z" fill="rgba(250,105,100,0.3)"/>
<path d="M90.00 392.60L90.00 392.03L90.50 392.03L90.50 391.90L91.00 391.90L91.00 391.80L91.50 391.80L91.50 391.70L92.00 391.70L92.00 391.41L92.50 391.41L92.50 391.20L93.00 391.20L93.00 390.92L93.50 390.92L93.50 390.43L94.00 390.43L94.00 389.85L94.50 389.85L94.50 389.01L95.00 389.01L95.00 387.27L95.50 387.27L95.50 383.84L96.00 383.84L96.00 376.26L96.50 376.26L96.50 367.50L97.00 367.50L97.00 365.23L97.50 365.23L97.50 361.30L98.00 361.30L98.00 357.69L98.50 357.69L98.50 356.21L99.00 356.21L99.00 353.38L99.50 353.38L99.50 348.41L100.00 348.41L100.00 341.98L100.50 341.98L100.50 332.55L101.00 332.55L101.00 321.99L101.50 321.99L101.50 309.53L102.00 309.53L102.00 305.69L102.50 305.69L102.50 302.49L103.00 302.49L103.00 301.99L103.50 301.99L103.50 304.22L104.00 304.22L104.00 311.39L104.50 311.39L104.50 312.55L105.00 312.55L105.00 317.14L105.50 317.14L105.50 319.83L106.00 319.83L106.00 323.46L106.50 323.46L106.50 325.56L107.00 325.56L107.00 325.43L107.50 325.43L107.50 328.55L108.00 328.55L108.00 331.92L108.50 331.92L108.50 332.49L109.00 332.49L109.00 334.62L109.50 334.62L109.50 336.93L110.00 336.93L110.00 335.92L110.50 335.92L110.50 334.73L111.00 334.73L111.00 336.02L111.50 336.02L111.50 343.31L112.00 343.31L112.00 346.17L112.50 346.17L112.50 356.13L113.00 356.13L113.00 364.89L113.50 364.89L113.50 369.38L114.00 369.38L114.00 371.92L114.50 371.92L114.50 374.39L115.00 374.39L115.00 374.96L115.50 374.96L115.50 376.64L116.00 376.64L116.00 379.30L116.50 379.30L116.50 380.45L117.00 380.45L117.00 381.77L117.50 381.77L117.50 383.20L118.00 383.20L118.00 384.51L118.50 384.51L118.50 385.41L119.00 385.41L119.00 385.70L119.50 385.70L119.50 386.47L120.00 386.47L120.00 387.56L120.50 387.56L120.50 388.45L121.00 388.45L121.00 389.18L121.50 389.18L121.50 389.88L122.00 389.88L122.00 390.41L122.50 390.41L122.50 390.67L123.00 390.67L123.00 390.63L123.50 390.63L123.50 390.92L124.00 390.92L124.00 391.19L124.50 391.19L124.50 391.31L125.00 391.31L125.00 391.39L125.50 391.39L125.50 391.47L126.00 391.47L126.00 391.58L126.50 391.58L126.50 391.68L127.00 391.68L127.00 391.74L127.50 391.74L127.50 391.84L128.00 391.84L128.00 391.85L128.50 391.85L128.50 391.92L129.00 391.92L129.00 391.94L129.50 391.94L129.50 392.03L130.00 392.03L130.00 392.01L130.50 392.01L130.50 392.08L131.00 392.08L131.00 392.08L131.50 392.08L131.50 392.16L132.00 392.16L132.00 392.15L132.50 392.15L132.50 392.19L133.00 392.19L133.00 392.23L133.50 392.23L133.50 392.24L134.00 392.24L134.00 392.28L134.50 392.28L134.50 392.27L135.00 392.27L135.00 392.60Z" fill="rgba(250,105,100,0.786)"/>
<path d="M95.00 392.60L95.00 392.32L95.50 392.32L95.50 392.30L96.00 392.30L96.00 392.29L96.50 392.29L96.50 392.25L97.00 392.25L97.00 392.27L97.50 392.27L97.50 392.22L98.00 392.22L98.00 392.22L98.50 392.22L98.50 392.17L99.00 392.17L99.00 392.14L99.50 392.14L99.50 392.12L100.00 392.12L100.00 392.11L100.50 392.11L100.50 392.11L101.00 392.11L101.00 392.06L101.50 392.06L101.50 392.02L102.00 392.02L102.00 392.05L102.50 392.05L102.50 392.00L103.00 392.00L103.00 391.94L103.50 391.94L103.50 391.07L104.00 391.07L104.00 384.33L104.50 384.33L104.50 383.22L105.00 383.22L105.00 382.01L105.50 382.01L105.50 381.15L106.00 381.15L106.00 381.21L106.50 381.21L106.50 378.93L107.00 378.93L107.00 377.91L107.50 377.91L107.50 376.55L108.00 376.55L108.00 375.17L108.50 375.17L108.50 373.69L109.00 373.69L109.00 374.26L109.50 374.26L109.50 369.81L110.00 369.81L110.00 371.01L110.50 371.01L110.50 371.55L111.00 371.55L111.00 368.29L111.50 368.29L111.50 368.41L112.00 368.41L112.00 372.22L112.50 372.22L112.50 371.98L113.00 371.98L113.00 373.46L113.50 373.46L113.50 376.64L114.00 376.64L114.00 378.67L114.50 378.67L114.50 378.43L115.00 378.43L115.00 377.45L115.50 377.45L115.50 379.33L116.00 379.33L116.00 380.29L116.50 380.29L116.50 380.71L117.00 380.71L117.00 381.25L117.50 381.25L117.50 382.50L118.00 382.50L118.00 383.24L118.50 383.24L118.50 384.58L119.00 384.58L119.00 386.60L119.50 386.60L119.50 387.53L120.00 387.53L120.00 388.32L120.50 388.32L120.50 388.58L121.00 388.58L121.00 389.21L121.50 389.21L121.50 389.59L122.00 389.59L122.00 389.40L122.50 389.40L122.50 389.81L123.00 389.81L123.00 389.88L123.50 389.88L123.50 389.80L124.00 389.80L124.00 390.13L124.50 390.13L124.50 390.34L125.00 390.34L125.00 390.44L125.50 390.44L125.50 390.62L126.00 390.62L126.00 390.53L126.50 390.53L126.50 390.71L127.00 390.71L127.00 390.59L127.50 390.59L127.50 390.82L128.00 390.82L128.00 390.87L128.50 390.87L128.50 390.92L129.00 390.92L129.00 390.89L129.50 390.89L129.50 390.97L130.00 390.97L130.00 390.93L130.50 390.93L130.50 391.11L131.00 391.11L131.00 391.09L131.50 391.09L131.50 391.03L132.00 391.03L132.00 391.21L132.50 391.21L132.50 391.20L133.00 391.20L133.00 391.18L133.50 391.18L133.50 391.28L134.00 391.28L134.00 391.38L134.50 391.38L134.50 391.50L135.00 391.50L135.00 391.28L135.50 391.28L135.50 391.41L136.00 391.41L136.00 391.39L136.50 391.39L136.50 391.49L137.00 391.49L137.00 391.40L137.50 391.40L137.50 391.48L138.00 391.48L138.00 391.52L138.50 391.52L138.50 391.59L139.00 391.59L139.00 391.55L139.50 391.55L139.50 391.60L140.00 391.60L140.00 391.61L140.50 391.61L140.50 391.69L141.00 391.69L141.00 391.65L141.50 391.65L141.50 391.64L142.00 391.64L142.00 391.72L142.50 391.72L142.50 391.68L143.00 391.68L143.00 391.67L143.50 391.67L143.50 391.72L144.00 391.72L144.00 391.75L144.50 391.75L144.50 391.77L145.00 391.77L145.00 391.72L145.50 391.72L145.50 391.83L146.00 391.83L146.00 391.80L146.50 391.80L146.50 391.82L147.00 391.82L147.00 391.81L147.50 391.81L147.50 391.83L148.00 391.83L148.00 391.88L148.50 391.88L148.50 391.79L149.00 391.79L149.00 391.86L149.50 391.86L149.50 391.92L150.00 391.92L150.00 391.92L150.50 391.92L150.50 391.90L151.00 391.90L151.00 391.90L151.50 391.90L151.50 391.97L152.00 391.97L152.00 391.92L152.50 391.92L152.50 391.99L153.00 391.99L153.00 391.99L153.50 391.99L153.50 391.95L154.00 391.95L154.00 391.94L154.50 391.94L154.50 392.00L155.00 392.00L155.00 392.02L155.50 392.02L155.50 391.98L156.00 391.98L156.00 392.06L156.50 392.06L156.50 392.03L157.00 392.03L157.00 392.04L157.50 392.04L157.50 392.03L158.00 392.03L158.00 392.06L158.50 392.06L158.50 392.08L159.00 392.08L159.00 392.07L159.50 392.07L159.50 392.12L160.00 392.12L160.00 392.08L160.50 392.08L160.50 392.12L161.00 392.12L161.00 392.13L161.50 392.13L161.50 392.13L162.00 392.13L162.00 392.12L162.50 392.12L162.50 392.11L163.00 392.11L163.00 392.14L163.50 392.14L163.50 392.12L164.00 392.12L164.00 392.12L164.50 392.12L164.50 392.15L165.00 392.15L165.00 392.17L165.50 392.17L165.50 392.14L166.00 392.14L166.00 392.16L166.50 392.16L166.50 392.21L167.00 392.21L167.00 392.19L167.50 392.19L167.50 392.18L168.00 392.18L168.00 392.21L168.50 392.21L168.50 392.20L169.00 392.20L169.00 392.22L169.50 392.22L169.50 392.19L170.00 392.19L170.00 392.20L170.50 392.20L170.50 392.20L171.00 392.20L171.00 392.18L171.50 392.18L171.50 392.22L172.00 392.22L172.00 392.22L172.50 392.22L172.50 392.19L173.00 392.19L173.00 392.25L173.50 392.25L173.50 392.22L174.00 392.22L174.00 392.26L174.50 392.26L174.50 392.23L175.00 392.23L175.00 392.21L175.50 392.21L175.50 392.24L176.00 392.24L176.00 392.26L176.50 392.26L176.50 392.22L177.00 392.22L177.00 392.27L177.50 392.27L177.50 392.27L178.00 392.27L178.00 392.26L178.50 392.26L178.50 392.29L179.00 392.29L179.00 392.26L179.50 392.26L179.50 392.25L180.00 392.25L180.00 392.27L180.50 392.27L180.50 392.28L181.00 392.28L181.00 392.29L181.50 392.29L181.50 392.28L182.00 392.28L182.00 392.34L182.50 392.34L182.50 392.30L183.00 392.30L183.00 392.30L183.50 392.30L183.50 392.33L184.00 392.33L184.00 392.30L184.50 392.30L184.50 392.31L185.00 392.31L185.00 392.32L185.50 392.32L185.50 392.32L186.00 392.32L186.00 392.31L186.50 392.31L186.50 392.32L187.00 392.32L187.00 392.34L187.50 392.34L187.50 392.33L188.00 392.33L188.00 392.34L188.50 392.34L188.50 392.34L189.00 392.34L189.00 392.35L189.50 392.35L189.50 392.33L190.00 392.33L190.00 392.33L190.50 392.33L190.50 392.33L191.00 392.33L191.00 392.33L191.50 392.33L191.50 392.34L192.00 392.34L192.00 392.36L192.50 392.36L192.50 392.37L193.00 392.37L193.00 392.37L193.50 392.37L193.50 392.36L194.00 392.36L194.00 392.37L194.50 392.37L194.50 392.36L195.00 392.36L195.00 392.36L195.50 392.36L195.50 392.38L196.00 392.38L196.00 392.37L196.50 392.37L196.50 392.39L197.00 392.39L197.00 392.40L197.50 392.40L197.50 392.40L198.00 392.40L198.00 392.39L198.50 392.39L198.50 392.41L199.00 392.41L199.00 392.39L199.50 392.39L199.50 392.39L200.00 392.39L200.00 392.60Z" fill="rgba(80,100,220,0.22)"/>
<path d="M103.70 392.60L103.70 383.45L104.20 383.45L104.20 383.63L104.70 383.63L104.70 381.80L105.20 381.80L105.20 382.40L105.70 382.40L105.70 380.54L106.20 380.54L106.20 379.26L106.70 379.26L106.70 379.83L107.20 379.83L107.20 377.43L107.70 377.43L107.70 375.23L108.20 375.23L108.20 372.55L108.70 372.55L108.70 373.68L109.20 373.68L109.20 371.24L109.70 371.24L109.70 371.32L110.20 371.32L110.20 368.72L110.70 368.72L110.70 366.09L111.20 366.09L111.20 367.06L111.70 367.06L111.70 372.17L112.20 372.17L112.20 373.51L112.70 373.51L112.70 375.17L113.20 375.17L113.20 375.60L113.70 375.60L113.70 377.51L114.20 377.51L114.20 375.70L114.70 375.70L114.70 377.67L115.20 377.67L115.20 376.88L115.70 376.88L115.70 379.00L116.20 379.00L116.20 379.47L116.70 379.47L116.70 380.45L117.20 380.45L117.20 381.55L117.70 381.55L117.70 382.69L118.20 382.69L118.20 383.82L118.70 383.82L118.70 385.69L119.20 385.69L119.20 387.11L119.70 387.11L119.70 387.82L120.20 387.82L120.20 388.48L120.70 388.48L120.70 389.24L121.20 389.24L121.20 390.02L121.70 390.02L121.70 390.24L122.20 390.24L122.20 390.64L122.70 390.64L122.70 390.95L123.20 390.95L123.20 391.00L123.70 391.00L123.70 391.26L124.20 391.26L124.20 391.24L124.70 391.24L124.70 391.44L125.20 391.44L125.20 391.62L125.70 391.62L125.70 391.71L126.20 391.71L126.20 391.75L126.70 391.75L126.70 391.81L127.20 391.81L127.20 391.87L127.70 391.87L127.70 391.82L128.20 391.82L128.20 391.94L128.70 391.94L128.70 391.98L129.20 391.98L129.20 392.06L129.70 392.06L129.70 392.02L130.20 392.02L130.20 392.06L130.70 392.06L130.70 392.08L131.20 392.08L131.20 392.15L131.70 392.15L131.70 392.13L132.20 392.13L132.20 392.20L132.70 392.20L132.70 392.23L133.20 392.23L133.20 392.24L133.70 392.24L133.70 392.26L134.20 392.26L134.20 392.27L134.70 392.27L134.70 392.60Z" fill="rgba(80,100,220,0.462)"/>
<path d="M330.00 392.40L330.00 392.11L330.50 392.11L330.50 392.10L331.00 392.10L331.00 392.09L331.50 392.09L331.50 392.07L332.00 392.07L332.00 392.07L332.50 392.07L332.50 392.05L333.00 392.05L333.00 392.03L333.50 392.03L333.50 392.02L334.00 392.02L334.00 392.02L334.50 392.02L334.50 392.03L335.00 392.03L335.00 392.02L335.50 392.02L335.50 392.01L336.00 392.01L336.00 392.00L336.50 392.00L336.50 391.98L337.00 391.98L337.00 391.99L337.50 391.99L337.50 391.98L338.00 391.98L338.00 391.94L338.50 391.94L338.50 391.97L339.00 391.97L339.00 391.93L339.50 391.93L339.50 391.90L340.00 391.90L340.00 391.92L340.50 391.92L340.50 391.91L341.00 391.91L341.00 391.89L341.50 391.89L341.50 391.85L342.00 391.85L342.00 391.85L342.50 391.85L342.50 391.88L343.00 391.88L343.00 391.83L343.50 391.83L343.50 391.78L344.00 391.78L344.00 391.77L344.50 391.77L344.50 391.76L345.00 391.76L345.00 391.77L345.50 391.77L345.50 391.80L346.00 391.80L346.00 391.73L346.50 391.73L346.50 391.72L347.00 391.72L347.00 391.70L347.50 391.70L347.50 391.64L348.00 391.64L348.00 391.66L348.50 391.66L348.50 391.64L349.00 391.64L349.00 391.61L349.50 391.61L349.50 391.63L350.00 391.63L350.00 391.62L350.50 391.62L350.50 391.61L351.00 391.61L351.00 391.53L351.50 391.53L351.50 391.52L352.00 391.52L352.00 391.54L352.50 391.54L352.50 391.45L353.00 391.45L353.00 391.47L353.50 391.47L353.50 391.51L354.00 391.51L354.00 391.41L354.50 391.41L354.50 391.42L355.00 391.42L355.00 391.44L355.50 391.44L355.50 391.32L356.00 391.32L356.00 391.32L356.50 391.32L356.50 391.28L357.00 391.28L357.00 391.19L357.50 391.19L357.50 391.29L358.00 391.29L358.00 391.20L358.50 391.20L358.50 391.10L359.00 391.10L359.00 391.01L359.50 391.01L359.50 391.02L360.00 391.02L360.00 390.99L360.50 390.99L360.50 390.94L361.00 390.94L361.00 390.82L361.50 390.82L361.50 390.70L362.00 390.70L362.00 390.80L362.50 390.80L362.50 390.79L363.00 390.79L363.00 390.59L363.50 390.59L363.50 390.53L364.00 390.53L364.00 390.50L364.50 390.50L364.50 390.29L365.00 390.29L365.00 390.20L365.50 390.20L365.50 390.25L366.00 390.25L366.00 390.15L366.50 390.15L366.50 389.97L367.00 389.97L367.00 389.99L367.50 389.99L367.50 390.01L368.00 390.01L368.00 389.76L368.50 389.76L368.50 389.77L369.00 389.77L369.00 389.52L369.50 389.52L369.50 389.52L370.00 389.52L370.00 389.36L370.50 389.36L370.50 389.13L371.00 389.13L371.00 389.08L371.50 389.08L371.50 389.02L372.00 389.02L372.00 388.93L372.50 388.93L372.50 388.31L373.00 388.31L373.00 388.24L373.50 388.24L373.50 388.55L374.00 388.55L374.00 388.29L374.50 388.29L374.50 387.79L375.00 387.79L375.00 387.83L375.50 387.83L375.50 387.50L376.00 387.50L376.00 387.06L376.50 387.06L376.50 386.91L377.00 386.91L377.00 386.64L377.50 386.64L377.50 386.39L378.00 386.39L378.00 385.91L378.50 385.91L378.50 385.37L379.00 385.37L379.00 384.50L379.50 384.50L379.50 384.26L380.00 384.26L380.00 384.18L380.50 384.18L380.50 383.10L381.00 383.10L381.00 382.75L381.50 382.75L381.50 382.76L382.00 382.76L382.00 381.34L382.50 381.34L382.50 379.91L383.00 379.91L383.00 379.12L383.50 379.12L383.50 375.19L384.00 375.19L384.00 372.68L384.50 372.68L384.50 366.82L385.00 366.82L385.00 359.80L385.50 359.80L385.50 344.82L386.00 344.82L386.00 337.46L386.50 337.46L386.50 325.84L387.00 325.84L387.00 317.04L387.50 317.04L387.50 309.01L388.00 309.01L388.00 302.24L388.50 302.24L388.50 299.91L389.00 299.91L389.00 289.76L389.50 289.76L389.50 304.79L390.00 304.79L390.00 303.08L390.50 303.08L390.50 308.00L391.00 308.00L391.00 310.35L391.50 310.35L391.50 306.66L392.00 306.66L392.00 308.14L392.50 308.14L392.50 308.28L393.00 308.28L393.00 306.20L393.50 306.20L393.50 308.24L394.00 308.24L394.00 307.84L394.50 307.84L394.50 306.57L395.00 306.57L395.00 306.30L395.50 306.30L395.50 305.40L396.00 305.40L396.00 289.46L396.50 289.46L396.50 291.25L397.00 291.25L397.00 301.81L397.50 301.81L397.50 304.37L398.00 304.37L398.00 303.99L398.50 303.99L398.50 303.82L399.00 303.82L399.00 306.55L399.50 306.55L399.50 306.68L400.00 306.68L400.00 322.40L400.50 322.40L400.50 329.12L401.00 329.12L401.00 332.85L401.50 332.85L401.50 337.64L402.00 337.64L402.00 341.19L402.50 341.19L402.50 341.09L403.00 341.09L403.00 342.79L403.50 342.79L403.50 342.40L404.00 342.40L404.00 346.82L404.50 346.82L404.50 344.65L405.00 344.65L405.00 352.14L405.50 352.14L405.50 349.85L406.00 349.85L406.00 351.15L406.50 351.15L406.50 353.18L407.00 353.18L407.00 355.99L407.50 355.99L407.50 357.63L408.00 357.63L408.00 356.96L408.50 356.96L408.50 361.00L409.00 361.00L409.00 360.48L409.50 360.48L409.50 363.50L410.00 363.50L410.00 364.45L410.50 364.45L410.50 368.65L411.00 368.65L411.00 367.39L411.50 367.39L411.50 368.43L412.00 368.43L412.00 371.65L412.50 371.65L412.50 372.48L413.00 372.48L413.00 373.98L413.50 373.98L413.50 372.81L414.00 372.81L414.00 376.42L414.50 376.42L414.50 377.30L415.00 377.30L415.00 379.60L415.50 379.60L415.50 379.75L416.00 379.75L416.00 379.57L416.50 379.57L416.50 381.08L417.00 381.08L417.00 382.35L417.50 382.35L417.50 381.59L418.00 381.59L418.00 381.89L418.50 381.89L418.50 382.29L419.00 382.29L419.00 382.70L419.50 382.70L419.50 383.53L420.00 383.53L420.00 382.49L420.50 382.49L420.50 384.03L421.00 384.03L421.00 383.87L421.50 383.87L421.50 384.71L422.00 384.71L422.00 384.67L422.50 384.67L422.50 385.18L423.00 385.18L423.00 384.77L423.50 384.77L423.50 385.16L424.00 385.16L424.00 385.54L424.50 385.54L424.50 386.02L425.00 386.02L425.00 385.40L425.50 385.40L425.50 385.49L426.00 385.49L426.00 385.66L426.50 385.66L426.50 386.09L427.00 386.09L427.00 386.03L427.50 386.03L427.50 386.13L428.00 386.13L428.00 386.39L428.50 386.39L428.50 386.28L429.00 386.28L429.00 386.82L429.50 386.82L429.50 386.85L430.00 386.85L430.00 387.39L430.50 387.39L430.50 386.65L431.00 386.65L431.00 387.43L431.50 387.43L431.50 387.29L432.00 387.29L432.00 387.34L432.50 387.34L432.50 387.76L433.00 387.76L433.00 387.70L433.50 387.70L433.50 387.65L434.00 387.65L434.00 387.92L434.50 387.92L434.50 388.06L435.00 388.06L435.00 388.15L435.50 388.15L435.50 388.32L436.00 388.32L436.00 388.31L436.50 388.31L436.50 388.31L437.00 388.31L437.00 388.38L437.50 388.38L437.50 388.36L438.00 388.36L438.00 388.62L438.50 388.62L438.50 388.80L439.00 388.80L439.00 388.66L439.50 388.66L439.50 388.82L440.00 388.82L440.00 388.79L440.50 388.79L440.50 388.96L441.00 388.96L441.00 388.96L441.50 388.96L441.50 389.02L442.00 389.02L442.00 389.02L442.50 389.02L442.50 389.31L443.00 389.31L443.00 389.23L443.50 389.23L443.50 389.24L444.00 389.24L444.00 389.07L444.50 389.07L444.50 389.36L445.00 389.36L445.00 389.33L445.50 389.33L445.50 389.45L446.00 389.45L446.00 389.74L446.50 389.74L446.50 389.35L447.00 389.35L447.00 389.47L447.50 389.47L447.50 389.44L448.00 389.44L448.00 389.80L448.50 389.80L448.50 389.64L449.00 389.64L449.00 389.69L449.50 389.69L449.50 389.93L450.00 389.93L450.00 389.73L450.50 389.73L450.50 389.89L451.00 389.89L451.00 389.80L451.50 389.80L451.50 390.08L452.00 390.08L452.00 390.02L452.50 390.02L452.50 390.04L453.00 390.04L453.00 390.16L453.50 390.16L453.50 390.02L454.00 390.02L454.00 389.92L454.50 389.92L454.50 390.09L455.00 390.09L455.00 390.06L455.50 390.06L455.50 390.01L456.00 390.01L456.00 390.13L456.50 390.13L456.50 390.25L457.00 390.25L457.00 390.43L457.50 390.43L457.50 390.24L458.00 390.24L458.00 390.34L458.50 390.34L458.50 390.38L459.00 390.38L459.00 390.30L459.50 390.30L459.50 390.34L460.00 390.34L460.00 390.56L460.50 390.56L460.50 390.42L461.00 390.42L461.00 390.48L461.50 390.48L461.50 390.40L462.00 390.40L462.00 390.50L462.50 390.50L462.50 390.43L463.00 390.43L463.00 390.59L463.50 390.59L463.50 390.58L464.00 390.58L464.00 390.61L464.50 390.61L464.50 390.60L465.00 390.60L465.00 390.62L465.50 390.62L465.50 390.53L466.00 390.53L466.00 390.72L466.50 390.72L466.50 390.65L467.00 390.65L467.00 390.76L467.50 390.76L467.50 390.80L468.00 390.80L468.00 390.75L468.50 390.75L468.50 390.84L469.00 390.84L469.00 390.73L469.50 390.73L469.50 390.81L470.00 390.81L470.00 390.81L470.50 390.81L470.50 390.76L471.00 390.76L471.00 390.69L471.50 390.69L471.50 390.86L472.00 390.86L472.00 390.97L472.50 390.97L472.50 390.88L473.00 390.88L473.00 390.87L473.50 390.87L473.50 390.80L474.00 390.80L474.00 390.90L474.50 390.90L474.50 390.97L475.00 390.97L475.00 390.86L475.50 390.86L475.50 390.87L476.00 390.87L476.00 390.97L476.50 390.97L476.50 390.95L477.00 390.95L477.00 390.96L477.50 390.96L477.50 390.83L478.00 390.83L478.00 391.05L478.50 391.05L478.50 391.05L479.00 391.05L479.00 391.04L479.50 391.04L479.50 391.01L480.00 391.01L480.00 391.08L480.50 391.08L480.50 391.05L481.00 391.05L481.00 391.04L481.50 391.04L481.50 390.99L482.00 390.99L482.00 391.12L482.50 391.12L482.50 391.15L483.00 391.15L483.00 391.16L483.50 391.16L483.50 391.26L484.00 391.26L484.00 391.23L484.50 391.23L484.50 391.17L485.00 391.17L485.00 391.18L485.50 391.18L485.50 391.06L486.00 391.06L486.00 391.15L486.50 391.15L486.50 391.19L487.00 391.19L487.00 391.16L487.50 391.16L487.50 391.28L488.00 391.28L488.00 391.29L488.50 391.29L488.50 391.31L489.00 391.31L489.00 391.29L489.50 391.29L489.50 391.19L490.00 391.19L490.00 391.32L490.50 391.32L490.50 391.35L491.00 391.35L491.00 391.33L491.50 391.33L491.50 391.30L492.00 391.30L492.00 391.33L492.50 391.33L492.50 391.32L493.00 391.32L493.00 391.43L493.50 391.43L493.50 391.42L494.00 391.42L494.00 391.40L494.50 391.40L494.50 391.40L495.00 391.40L495.00 391.35L495.50 391.35L495.50 391.48L496.00 391.48L496.00 391.40L496.50 391.40L496.50 391.45L497.00 391.45L497.00 391.42L497.50 391.42L497.50 391.49L498.00 391.49L498.00 391.53L498.50 391.53L498.50 391.43L499.00 391.43L499.00 391.47L499.50 391.47L499.50 391.57L500.00 391.57L500.00 391.48L500.50 391.48L500.50 391.55L501.00 391.55L501.00 391.52L501.50 391.52L501.50 391.53L502.00 391.53L502.00 391.59L502.50 391.59L502.50 391.50L503.00 391.50L503.00 391.57L503.50 391.57L503.50 391.50L504.00 391.50L504.00 391.55L504.50 391.55L504.50 391.56L505.00 391.56L505.00 391.57L505.50 391.57L505.50 391.52L506.00 391.52L506.00 391.63L506.50 391.63L506.50 391.63L507.00 391.63L507.00 391.63L507.50 391.63L507.50 391.58L508.00 391.58L508.00 391.59L508.50 391.59L508.50 391.63L509.00 391.63L509.00 391.63L509.50 391.63L509.50 391.70L510.00 391.70L510.00 391.60L510.50 391.60L510.50 391.67L511.00 391.67L511.00 391.66L511.50 391.66L511.50 391.68L512.00 391.68L512.00 391.66L512.50 391.66L512.50 391.69L513.00 391.69L513.00 391.69L513.50 391.69L513.50 391.70L514.00 391.70L514.00 391.72L514.50 391.72L514.50 391.73L515.00 391.73L515.00 391.70L515.50 391.70L515.50 391.71L516.00 391.71L516.00 391.71L516.50 391.71L516.50 391.69L517.00 391.69L517.00 391.78L517.50 391.78L517.50 391.80L518.00 391.80L518.00 391.77L518.50 391.77L518.50 391.72L519.00 391.72L519.00 391.77L519.50 391.77L519.50 391.82L520.00 391.82L520.00 391.73L520.50 391.73L520.50 391.77L521.00 391.77L521.00 391.83L521.50 391.83L521.50 391.82L522.00 391.82L522.00 391.80L522.50 391.80L522.50 391.82L523.00 391.82L523.00 391.81L523.50 391.81L523.50 391.80L524.00 391.80L524.00 391.82L524.50 391.82L524.50 391.79L525.00 391.79L525.00 391.84L525.50 391.84L525.50 391.80L526.00 391.80L526.00 391.86L526.50 391.86L526.50 391.88L527.00 391.88L527.00 391.90L527.50 391.90L527.50 391.88L528.00 391.88L528.00 391.86L528.50 391.86L528.50 391.84L529.00 391.84L529.00 391.95L529.50 391.95L529.50 391.88L530.00 391.88L530.00 391.90L530.50 391.90L530.50 391.87L531.00 391.87L531.00 391.90L531.50 391.90L531.50 391.89L532.00 391.89L532.00 391.86L532.50 391.86L532.50 391.90L533.00 391.90L533.00 391.91L533.50 391.91L533.50 391.89L534.00 391.89L534.00 391.91L534.50 391.91L534.50 391.93L535.00 391.93L535.00 391.96L535.50 391.96L535.50 391.94L536.00 391.94L536.00 391.97L536.50 391.97L536.50 391.94L537.00 391.94L537.00 391.93L537.50 391.93L537.50 391.95L538.00 391.95L538.00 391.92L538.50 391.92L538.50 391.98L539.00 391.98L539.00 391.95L539.50 391.95L539.50 391.97L540.00 391.97L540.00 391.99L540.50 391.99L540.50 391.97L541.00 391.97L541.00 391.96L541.50 391.96L541.50 391.96L542.00 391.96L542.00 391.99L542.50 391.99L542.50 391.98L543.00 391.98L543.00 392.01L543.50 392.01L543.50 391.97L544.00 391.97L544.00 392.40Z" fill="rgba(110,200,208,0.24)"/>
<path d="M382.00 392.40L382.00 390.02L382.50 390.02L382.50 389.13L383.00 389.13L383.00 387.66L383.50 387.66L383.50 386.22L384.00 386.22L384.00 384.38L384.50 384.38L384.50 379.83L385.00 379.83L385.00 372.05L385.50 372.05L385.50 361.05L386.00 361.05L386.00 347.35L386.50 347.35L386.50 338.16L387.00 338.16L387.00 321.52L387.50 321.52L387.50 306.92L388.00 306.92L388.00 302.75L388.50 302.75L388.50 299.06L389.00 299.06L389.00 293.37L389.50 293.37L389.50 304.87L390.00 304.87L390.00 307.61L390.50 307.61L390.50 307.83L391.00 307.83L391.00 306.90L391.50 306.90L391.50 307.91L392.00 307.91L392.00 310.20L392.50 310.20L392.50 311.12L393.00 311.12L393.00 305.84L393.50 305.84L393.50 304.69L394.00 304.69L394.00 305.95L394.50 305.95L394.50 305.05L395.00 305.05L395.00 302.30L395.50 302.30L395.50 301.11L396.00 301.11L396.00 285.31L396.50 285.31L396.50 286.89L397.00 286.89L397.00 300.67L397.50 300.67L397.50 305.81L398.00 305.81L398.00 302.64L398.50 302.64L398.50 305.49L399.00 305.49L399.00 308.92L399.50 308.92L399.50 306.12L400.00 306.12L400.00 318.13L400.50 318.13L400.50 330.32L401.00 330.32L401.00 332.61L401.50 332.61L401.50 335.99L402.00 335.99L402.00 341.22L402.50 341.22L402.50 344.59L403.00 344.59L403.00 350.27L403.50 350.27L403.50 354.71L404.00 354.71L404.00 358.65L404.50 358.65L404.50 361.88L405.00 361.88L405.00 365.79L405.50 365.79L405.50 370.02L406.00 370.02L406.00 372.27L406.50 372.27L406.50 373.68L407.00 373.68L407.00 375.81L407.50 375.81L407.50 377.94L408.00 377.94L408.00 379.07L408.50 379.07L408.50 380.98L409.00 380.98L409.00 381.14L409.50 381.14L409.50 382.95L410.00 382.95L410.00 382.76L410.50 382.76L410.50 384.47L411.00 384.47L411.00 385.78L411.50 385.78L411.50 385.83L412.00 385.83L412.00 386.79L412.50 386.79L412.50 387.34L413.00 387.34L413.00 387.77L413.50 387.77L413.50 387.85L414.00 387.85L414.00 388.50L414.50 388.50L414.50 388.88L415.00 388.88L415.00 389.18L415.50 389.18L415.50 389.25L416.00 389.25L416.00 389.34L416.50 389.34L416.50 389.56L417.00 389.56L417.00 389.65L417.50 389.65L417.50 389.87L418.00 389.87L418.00 389.95L418.50 389.95L418.50 390.35L419.00 390.35L419.00 390.06L419.50 390.06L419.50 390.47L420.00 390.47L420.00 390.48L420.50 390.48L420.50 390.59L421.00 390.59L421.00 390.66L421.50 390.66L421.50 390.72L422.00 390.72L422.00 390.86L422.50 390.86L422.50 390.88L423.00 390.88L423.00 391.13L423.50 391.13L423.50 391.03L424.00 391.03L424.00 391.20L424.50 391.20L424.50 391.19L425.00 391.19L425.00 391.31L425.50 391.31L425.50 391.35L426.00 391.35L426.00 391.42L426.50 391.42L426.50 391.43L427.00 391.43L427.00 391.60L427.50 391.60L427.50 391.61L428.00 391.61L428.00 391.63L428.50 391.63L428.50 391.70L429.00 391.70L429.00 391.68L429.50 391.68L429.50 391.80L430.00 391.80L430.00 392.40Z" fill="rgba(110,200,208,0.408)"/>
<path d="M330.00 392.40L330.00 392.20L330.50 392.20L330.50 392.18L331.00 392.18L331.00 392.18L331.50 392.18L331.50 392.17L332.00 392.17L332.00 392.15L332.50 392.15L332.50 392.18L333.00 392.18L333.00 392.16L333.50 392.16L333.50 392.17L334.00 392.17L334.00 392.14L334.50 392.14L334.50 392.12L335.00 392.12L335.00 392.13L335.50 392.13L335.50 392.11L336.00 392.11L336.00 392.14L336.50 392.14L336.50 392.10L337.00 392.10L337.00 392.11L337.50 392.11L337.50 392.06L338.00 392.06L338.00 392.07L338.50 392.07L338.50 392.06L339.00 392.06L339.00 392.06L339.50 392.06L339.50 392.04L340.00 392.04L340.00 392.03L340.50 392.03L340.50 392.04L341.00 392.04L341.00 392.03L341.50 392.03L341.50 392.01L342.00 392.01L342.00 392.01L342.50 392.01L342.50 392.00L343.00 392.00L343.00 391.98L343.50 391.98L343.50 391.98L344.00 391.98L344.00 391.94L344.50 391.94L344.50 391.98L345.00 391.98L345.00 391.91L345.50 391.91L345.50 391.93L346.00 391.93L346.00 391.92L346.50 391.92L346.50 391.92L347.00 391.92L347.00 391.88L347.50 391.88L347.50 391.87L348.00 391.87L348.00 391.85L348.50 391.85L348.50 391.85L349.00 391.85L349.00 391.82L349.50 391.82L349.50 391.76L350.00 391.76L350.00 391.78L350.50 391.78L350.50 391.79L351.00 391.79L351.00 391.72L351.50 391.72L351.50 391.73L352.00 391.73L352.00 391.69L352.50 391.69L352.50 391.67L353.00 391.67L353.00 391.68L353.50 391.68L353.50 391.71L354.00 391.71L354.00 391.63L354.50 391.63L354.50 391.57L355.00 391.57L355.00 391.58L355.50 391.58L355.50 391.53L356.00 391.53L356.00 391.48L356.50 391.48L356.50 391.51L357.00 391.51L357.00 391.41L357.50 391.41L357.50 391.36L358.00 391.36L358.00 391.35L358.50 391.35L358.50 391.32L359.00 391.32L359.00 391.29L359.50 391.29L359.50 391.20L360.00 391.20L360.00 391.26L360.50 391.26L360.50 391.24L361.00 391.24L361.00 391.17L361.50 391.17L361.50 391.22L362.00 391.22L362.00 391.22L362.50 391.22L362.50 391.14L363.00 391.14L363.00 391.03L363.50 391.03L363.50 390.98L364.00 390.98L364.00 391.07L364.50 391.07L364.50 391.05L365.00 391.05L365.00 390.88L365.50 390.88L365.50 390.80L366.00 390.80L366.00 390.70L366.50 390.70L366.50 390.56L367.00 390.56L367.00 390.42L367.50 390.42L367.50 390.41L368.00 390.41L368.00 390.27L368.50 390.27L368.50 390.33L369.00 390.33L369.00 390.23L369.50 390.23L369.50 389.97L370.00 389.97L370.00 389.80L370.50 389.80L370.50 389.66L371.00 389.66L371.00 389.54L371.50 389.54L371.50 389.37L372.00 389.37L372.00 389.22L372.50 389.22L372.50 389.43L373.00 389.43L373.00 389.13L373.50 389.13L373.50 388.78L374.00 388.78L374.00 388.58L374.50 388.58L374.50 388.76L375.00 388.76L375.00 388.09L375.50 388.09L375.50 388.19L376.00 388.19L376.00 387.92L376.50 387.92L376.50 387.54L377.00 387.54L377.00 387.14L377.50 387.14L377.50 387.36L378.00 387.36L378.00 386.43L378.50 386.43L378.50 386.32L379.00 386.32L379.00 386.21L379.50 386.21L379.50 385.68L380.00 385.68L380.00 385.80L380.50 385.80L380.50 384.63L381.00 384.63L381.00 383.57L381.50 383.57L381.50 383.13L382.00 383.13L382.00 382.09L382.50 382.09L382.50 381.03L383.00 381.03L383.00 379.42L383.50 379.42L383.50 371.39L384.00 371.39L384.00 364.72L384.50 364.72L384.50 357.91L385.00 357.91L385.00 344.96L385.50 344.96L385.50 330.81L386.00 330.81L386.00 330.24L386.50 330.24L386.50 324.10L387.00 324.10L387.00 323.73L387.50 323.73L387.50 316.60L388.00 316.60L388.00 315.17L388.50 315.17L388.50 311.61L389.00 311.61L389.00 311.63L389.50 311.63L389.50 313.09L390.00 313.09L390.00 312.00L390.50 312.00L390.50 315.79L391.00 315.79L391.00 323.31L391.50 323.31L391.50 336.34L392.00 336.34L392.00 391.92L392.50 391.92L392.50 392.00L393.00 392.00L393.00 392.01L393.50 392.01L393.50 392.11L394.00 392.11L394.00 392.15L394.50 392.15L394.50 392.18L395.00 392.18L395.00 392.40Z" fill="rgba(250,105,100,0.3)"/>
<path d="M372.00 392.40L372.00 391.62L372.50 391.62L372.50 391.46L373.00 391.46L373.00 391.45L373.50 391.45L373.50 391.34L374.00 391.34L374.00 391.32L374.50 391.32L374.50 391.06L375.00 391.06L375.00 391.14L375.50 391.14L375.50 390.97L376.00 390.97L376.00 390.89L376.50 390.89L376.50 390.58L377.00 390.58L377.00 390.59L377.50 390.59L377.50 390.56L378.00 390.56L378.00 390.28L378.50 390.28L378.50 389.98L379.00 389.98L379.00 389.59L379.50 389.59L379.50 389.00L380.00 389.00L380.00 388.67L380.50 388.67L380.50 387.61L381.00 387.61L381.00 387.37L381.50 387.37L381.50 385.83L382.00 385.83L382.00 384.30L382.50 384.30L382.50 382.82L383.00 382.82L383.00 379.87L383.50 379.87L383.50 372.85L384.00 372.85L384.00 363.37L384.50 363.37L384.50 358.39L385.00 358.39L385.00 342.82L385.50 342.82L385.50 338.03L386.00 338.03L386.00 329.22L386.50 329.22L386.50 326.21L387.00 326.21L387.00 319.78L387.50 319.78L387.50 320.31L388.00 320.31L388.00 316.32L388.50 316.32L388.50 313.00L389.00 313.00L389.00 312.95L389.50 312.95L389.50 311.28L390.00 311.28L390.00 312.42L390.50 312.42L390.50 317.51L391.00 317.51L391.00 322.84L391.50 322.84L391.50 333.98L392.00 333.98L392.00 391.89L392.50 391.89L392.50 392.01L393.00 392.01L393.00 392.04L393.50 392.04L393.50 392.13L394.00 392.13L394.00 392.16L394.50 392.16L394.50 392.18L395.00 392.18L395.00 392.40Z" fill="rgba(250,105,100,0.786)"/>
<path d="M391.60 392.40L391.60 388.93L392.10 388.93L392.10 372.60L392.60 372.60L392.60 363.00L393.10 363.00L393.10 355.01L393.60 355.01L393.60 347.77L394.10 347.77L394.10 343.31L394.60 343.31L394.60 336.20L395.10 336.20L395.10 333.51L395.60 333.51L395.60 329.27L396.10 329.27L396.10 330.32L396.60 330.32L396.60 322.18L397.10 322.18L397.10 322.33L397.60 322.33L397.60 320.66L398.10 320.66L398.10 322.47L398.60 322.47L398.60 326.28L399.10 326.28L399.10 329.35L399.60 329.35L399.60 332.90L400.10 332.90L400.10 338.69L400.60 338.69L400.60 342.58L401.10 342.58L401.10 344.92L401.60 344.92L401.60 350.82L402.10 350.82L402.10 354.54L402.60 354.54L402.60 353.82L403.10 353.82L403.10 357.72L403.60 357.72L403.60 361.63L404.10 361.63L404.10 361.84L404.60 361.84L404.60 363.14L405.10 363.14L405.10 365.76L405.60 365.76L405.60 367.86L406.10 367.86L406.10 368.26L406.60 368.26L406.60 369.42L407.10 369.42L407.10 372.37L407.60 372.37L407.60 374.47L408.10 374.47L408.10 375.11L408.60 375.11L408.60 376.32L409.10 376.32L409.10 378.28L409.60 378.28L409.60 378.56L410.10 378.56L410.10 379.06L410.60 379.06L410.60 380.49L411.10 380.49L411.10 381.48L411.60 381.48L411.60 381.54L412.10 381.54L412.10 382.20L412.60 382.20L412.60 382.41L413.10 382.41L413.10 383.94L413.60 383.94L413.60 384.19L414.10 384.19L414.10 384.72L414.60 384.72L414.60 385.46L415.10 385.46L415.10 385.14L415.60 385.14L415.60 385.27L416.10 385.27L416.10 385.90L416.60 385.90L416.60 385.51L417.10 385.51L417.10 385.90L417.60 385.90L417.60 386.18L418.10 386.18L418.10 386.46L418.60 386.46L418.60 386.53L419.10 386.53L419.10 387.29L419.60 387.29L419.60 387.01L420.10 387.01L420.10 387.20L420.60 387.20L420.60 387.90L421.10 387.90L421.10 387.61L421.60 387.61L421.60 387.90L422.10 387.90L422.10 387.80L422.60 387.80L422.60 388.12L423.10 388.12L423.10 388.11L423.60 388.11L423.60 388.12L424.10 388.12L424.10 388.42L424.60 388.42L424.60 388.22L425.10 388.22L425.10 388.42L425.60 388.42L425.60 388.38L426.10 388.38L426.10 388.63L426.60 388.63L426.60 388.42L427.10 388.42L427.10 388.57L427.60 388.57L427.60 388.76L428.10 388.76L428.10 388.69L428.60 388.69L428.60 388.66L429.10 388.66L429.10 388.64L429.60 388.64L429.60 389.22L430.10 389.22L430.10 388.90L430.60 388.90L430.60 389.01L431.10 389.01L431.10 389.14L431.60 389.14L431.60 389.32L432.10 389.32L432.10 389.04L432.60 389.04L432.60 389.45L433.10 389.45L433.10 389.24L433.60 389.24L433.60 389.18L434.10 389.18L434.10 389.62L434.60 389.62L434.60 389.49L435.10 389.49L435.10 389.66L435.60 389.66L435.60 389.50L436.10 389.50L436.10 389.38L436.60 389.38L436.60 389.36L437.10 389.36L437.10 389.87L437.60 389.87L437.60 389.76L438.10 389.76L438.10 389.65L438.60 389.65L438.60 389.58L439.10 389.58L439.10 389.76L439.60 389.76L439.60 389.93L440.10 389.93L440.10 389.85L440.60 389.85L440.60 389.92L441.10 389.92L441.10 389.98L441.60 389.98L441.60 390.07L442.10 390.07L442.10 389.98L442.60 389.98L442.60 390.03L443.10 390.03L443.10 390.10L443.60 390.10L443.60 390.15L444.10 390.15L444.10 390.29L444.60 390.29L444.60 390.24L445.10 390.24L445.10 390.10L445.60 390.10L445.60 390.26L446.10 390.26L446.10 390.40L446.60 390.40L446.60 390.16L447.10 390.16L447.10 390.26L447.60 390.26L447.60 390.14L448.10 390.14L448.10 390.35L448.60 390.35L448.60 390.42L449.10 390.42L449.10 390.54L449.60 390.54L449.60 390.31L450.10 390.31L450.10 390.22L450.60 390.22L450.60 390.54L451.10 390.54L451.10 390.55L451.60 390.55L451.60 390.46L452.10 390.46L452.10 390.61L452.60 390.61L452.60 390.58L453.10 390.58L453.10 390.61L453.60 390.61L453.60 390.58L454.10 390.58L454.10 390.53L454.60 390.53L454.60 390.64L455.10 390.64L455.10 390.59L455.60 390.59L455.60 390.71L456.10 390.71L456.10 390.67L456.60 390.67L456.60 390.88L457.10 390.88L457.10 390.84L457.60 390.84L457.60 390.69L458.10 390.69L458.10 390.82L458.60 390.82L458.60 390.75L459.10 390.75L459.10 390.77L459.60 390.77L459.60 390.73L460.10 390.73L460.10 390.79L460.60 390.79L460.60 390.79L461.10 390.79L461.10 390.89L461.60 390.89L461.60 390.94L462.10 390.94L462.10 390.96L462.60 390.96L462.60 390.96L463.10 390.96L463.10 391.02L463.60 391.02L463.60 391.00L464.10 391.00L464.10 390.99L464.60 390.99L464.60 390.98L465.10 390.98L465.10 391.03L465.60 391.03L465.60 391.14L466.10 391.14L466.10 391.04L466.60 391.04L466.60 391.04L467.10 391.04L467.10 391.00L467.60 391.00L467.60 391.04L468.10 391.04L468.10 391.13L468.60 391.13L468.60 391.14L469.10 391.14L469.10 391.00L469.60 391.00L469.60 391.08L470.10 391.08L470.10 391.04L470.60 391.04L470.60 391.03L471.10 391.03L471.10 391.21L471.60 391.21L471.60 391.15L472.10 391.15L472.10 391.16L472.60 391.16L472.60 391.17L473.10 391.17L473.10 391.18L473.60 391.18L473.60 391.21L474.10 391.21L474.10 391.23L474.60 391.23L474.60 391.32L475.10 391.32L475.10 391.27L475.60 391.27L475.60 391.31L476.10 391.31L476.10 391.27L476.60 391.27L476.60 391.31L477.10 391.31L477.10 391.27L477.60 391.27L477.60 391.27L478.10 391.27L478.10 391.31L478.60 391.31L478.60 391.32L479.10 391.32L479.10 391.34L479.60 391.34L479.60 391.37L480.10 391.37L480.10 391.37L480.60 391.37L480.60 391.40L481.10 391.40L481.10 391.37L481.60 391.37L481.60 391.39L482.10 391.39L482.10 391.38L482.60 391.38L482.60 391.47L483.10 391.47L483.10 391.38L483.60 391.38L483.60 391.47L484.10 391.47L484.10 391.47L484.60 391.47L484.60 391.46L485.10 391.46L485.10 391.49L485.60 391.49L485.60 391.46L486.10 391.46L486.10 391.50L486.60 391.50L486.60 391.53L487.10 391.53L487.10 391.53L487.60 391.53L487.60 391.45L488.10 391.45L488.10 391.51L488.60 391.51L488.60 391.57L489.10 391.57L489.10 391.53L489.60 391.53L489.60 391.60L490.10 391.60L490.10 391.48L490.60 391.48L490.60 391.62L491.10 391.62L491.10 391.55L491.60 391.55L491.60 391.56L492.10 391.56L492.10 391.64L492.60 391.64L492.60 391.58L493.10 391.58L493.10 391.56L493.60 391.56L493.60 391.59L494.10 391.59L494.10 391.61L494.60 391.61L494.60 391.59L495.10 391.59L495.10 391.63L495.60 391.63L495.60 391.63L496.10 391.63L496.10 391.65L496.60 391.65L496.60 391.63L497.10 391.63L497.10 391.69L497.60 391.69L497.60 391.64L498.10 391.64L498.10 391.69L498.60 391.69L498.60 391.72L499.10 391.72L499.10 391.68L499.60 391.68L499.60 391.64L500.10 391.64L500.10 391.67L500.60 391.67L500.60 391.73L501.10 391.73L501.10 391.70L501.60 391.70L501.60 391.74L502.10 391.74L502.10 391.73L502.60 391.73L502.60 391.73L503.10 391.73L503.10 391.81L503.60 391.81L503.60 391.74L504.10 391.74L504.10 391.78L504.60 391.78L504.60 391.78L505.10 391.78L505.10 391.81L505.60 391.81L505.60 391.82L506.10 391.82L506.10 391.80L506.60 391.80L506.60 391.76L507.10 391.76L507.10 391.74L507.60 391.74L507.60 391.80L508.10 391.80L508.10 391.77L508.60 391.77L508.60 391.81L509.10 391.81L509.10 391.86L509.60 391.86L509.60 391.81L510.10 391.81L510.10 391.81L510.60 391.81L510.60 391.84L511.10 391.84L511.10 391.83L511.60 391.83L511.60 391.82L512.10 391.82L512.10 391.87L512.60 391.87L512.60 391.89L513.10 391.89L513.10 391.86L513.60 391.86L513.60 391.87L514.10 391.87L514.10 391.87L514.60 391.87L514.60 391.85L515.10 391.85L515.10 391.83L515.60 391.83L515.60 391.89L516.10 391.89L516.10 391.87L516.60 391.87L516.60 391.87L517.10 391.87L517.10 391.88L517.60 391.88L517.60 391.88L518.10 391.88L518.10 391.91L518.60 391.91L518.60 391.89L519.10 391.89L519.10 391.87L519.60 391.87L519.60 391.90L520.10 391.90L520.10 391.94L520.60 391.94L520.60 391.91L521.10 391.91L521.10 391.91L521.60 391.91L521.60 391.93L522.10 391.93L522.10 391.95L522.60 391.95L522.60 391.91L523.10 391.91L523.10 391.97L523.60 391.97L523.60 391.94L524.10 391.94L524.10 391.96L524.60 391.96L524.60 391.99L525.10 391.99L525.10 391.94L525.60 391.94L525.60 391.96L526.10 391.96L526.10 392.00L526.60 392.00L526.60 391.97L527.10 391.97L527.10 391.99L527.60 391.99L527.60 392.02L528.10 392.02L528.10 392.00L528.60 392.00L528.60 391.99L529.10 391.99L529.10 391.99L529.60 391.99L529.60 392.00L530.10 392.00L530.10 392.01L530.60 392.01L530.60 392.00L531.10 392.00L531.10 392.02L531.60 392.02L531.60 392.00L532.10 392.00L532.10 392.02L532.60 392.02L532.60 392.02L533.10 392.02L533.10 392.02L533.60 392.02L533.60 392.05L534.10 392.05L534.10 392.05L534.60 392.05L534.60 392.02L535.10 392.02L535.10 392.04L535.60 392.04L535.60 392.05L536.10 392.05L536.10 392.05L536.60 392.05L536.60 392.06L537.10 392.06L537.10 392.05L537.60 392.05L537.60 392.07L538.10 392.07L538.10 392.06L538.60 392.06L538.60 392.09L539.10 392.09L539.10 392.05L539.60 392.05L539.60 392.08L540.10 392.08L540.10 392.10L540.60 392.10L540.60 392.08L541.10 392.08L541.10 392.09L541.60 392.09L541.60 392.08L542.10 392.08L542.10 392.11L542.60 392.11L542.60 392.09L543.10 392.09L543.10 392.05L543.60 392.05L543.60 392.40Z" fill="rgba(60,80,200,0.65)"/>
<text x="16.00" y="72.20" fill="#ff94e4" font-weight="bold" font-size="10.7" text-anchor="start" opacity="0.8" stroke="none">Nighttime: 0.91; 0.41; 0.20; 1.00</text>
<text x="21.00" y="80.40" fill="#ffa6ea" font-weight="bold" font-size="10.7" text-anchor="start" opacity="0.75" stroke="none">Weak: 1.20; 0.58; 0.42; 1.00</text>
<line x1="16" y1="87.2" x2="168" y2="87.2" stroke="#f6a4ec" stroke-width="1.4" stroke-dasharray="4.5 2.5" opacity="0.7"/>
<line x1="16" y1="92" x2="168" y2="92" stroke="#a8f2f2" stroke-width="1.2" stroke-dasharray="3 3"/>
<text x="0.50" y="100.70" fill="#9aeef0" font-weight="bold" font-size="10.7" text-anchor="start" stroke="none">All conditions: 1.15; 0.56; 0.37;1.00</text>
<text x="6.50" y="108.60" fill="#a2eef0" font-weight="bold" font-size="10.7" text-anchor="start" stroke="none">All: 1.15; 0.56; 0.37; 1.00</text>
<line x1="41.60" y1="163.00" x2="44.30" y2="163.00" stroke="#666" stroke-width="0.8"/>
<text x="40.40" y="166.90" fill="#111" font-weight="bold" font-size="10.7" text-anchor="end"  stroke="#111" stroke-width="0.3">0</text>
<line x1="41.60" y1="134.32" x2="44.30" y2="134.32" stroke="#666" stroke-width="0.8"/>
<text x="40.40" y="138.22" fill="#111" font-weight="bold" font-size="10.7" text-anchor="end"  stroke="#111" stroke-width="0.3">200</text>
<line x1="41.60" y1="105.64" x2="44.30" y2="105.64" stroke="#666" stroke-width="0.8"/>
<text x="40.40" y="109.54" fill="#111" font-weight="bold" font-size="10.7" text-anchor="end"  stroke="#111" stroke-width="0.3">400</text>
<line x1="41.60" y1="76.96" x2="44.30" y2="76.96" stroke="#666" stroke-width="0.8"/>
<text x="40.40" y="80.86" fill="#111" font-weight="bold" font-size="10.7" text-anchor="end"  stroke="#111" stroke-width="0.3">600</text>
<line x1="41.60" y1="48.28" x2="44.30" y2="48.28" stroke="#666" stroke-width="0.8"/>
<text x="40.40" y="52.18" fill="#111" font-weight="bold" font-size="10.7" text-anchor="end"  stroke="#111" stroke-width="0.3">800</text>
<line x1="41.60" y1="19.60" x2="44.30" y2="19.60" stroke="#666" stroke-width="0.8"/>
<text x="40.40" y="23.50" fill="#111" font-weight="bold" font-size="10.7" text-anchor="end"  stroke="#111" stroke-width="0.3">1000</text>
<line x1="60.00" y1="163.00" x2="60.00" y2="165.70" stroke="#666" stroke-width="0.8"/>
<text x="60.00" y="175.20" fill="#111" font-weight="bold" font-size="10.7" text-anchor="middle"  stroke="#111" stroke-width="0.3">−2</text>
<line x1="107.50" y1="163.00" x2="107.50" y2="165.70" stroke="#666" stroke-width="0.8"/>
<text x="107.50" y="175.20" fill="#111" font-weight="bold" font-size="10.7" text-anchor="middle"  stroke="#111" stroke-width="0.3">0</text>
<line x1="155.00" y1="163.00" x2="155.00" y2="165.70" stroke="#666" stroke-width="0.8"/>
<text x="155.00" y="175.20" fill="#111" font-weight="bold" font-size="10.7" text-anchor="middle"  stroke="#111" stroke-width="0.3">2</text>
<line x1="202.50" y1="163.00" x2="202.50" y2="165.70" stroke="#666" stroke-width="0.8"/>
<text x="202.50" y="175.20" fill="#111" font-weight="bold" font-size="10.7" text-anchor="middle"  stroke="#111" stroke-width="0.3">4</text>
<line x1="250.00" y1="163.00" x2="250.00" y2="165.70" stroke="#666" stroke-width="0.8"/>
<text x="250.00" y="175.20" fill="#111" font-weight="bold" font-size="10.7" text-anchor="middle"  stroke="#111" stroke-width="0.3">6</text>
<rect x="44.30" y="6.50" width="213.20" height="156.50" fill="none" stroke="#606060" stroke-width="1"/>
<text x="150.90" y="186.40" fill="#111" font-weight="bold" font-size="10.7" text-anchor="middle"  stroke="#111" stroke-width="0.3">Terrain Height Residuals</text>
<text x="0" y="0" fill="#111" font-weight="bold" font-size="10.7" text-anchor="middle" transform="translate(14.50,84.75) rotate(-90)">Number of Observations</text>
<line x1="328.40" y1="163.00" x2="331.10" y2="163.00" stroke="#666" stroke-width="0.8"/>
<text x="327.20" y="166.90" fill="#111" font-weight="bold" font-size="10.7" text-anchor="end"  stroke="#111" stroke-width="0.3">0</text>
<line x1="328.40" y1="134.32" x2="331.10" y2="134.32" stroke="#666" stroke-width="0.8"/>
<text x="327.20" y="138.22" fill="#111" font-weight="bold" font-size="10.7" text-anchor="end"  stroke="#111" stroke-width="0.3">200</text>
<line x1="328.40" y1="105.64" x2="331.10" y2="105.64" stroke="#666" stroke-width="0.8"/>
<text x="327.20" y="109.54" fill="#111" font-weight="bold" font-size="10.7" text-anchor="end"  stroke="#111" stroke-width="0.3">400</text>
<line x1="328.40" y1="76.96" x2="331.10" y2="76.96" stroke="#666" stroke-width="0.8"/>
<text x="327.20" y="80.86" fill="#111" font-weight="bold" font-size="10.7" text-anchor="end"  stroke="#111" stroke-width="0.3">600</text>
<line x1="328.40" y1="48.28" x2="331.10" y2="48.28" stroke="#666" stroke-width="0.8"/>
<text x="327.20" y="52.18" fill="#111" font-weight="bold" font-size="10.7" text-anchor="end"  stroke="#111" stroke-width="0.3">800</text>
<line x1="328.40" y1="19.60" x2="331.10" y2="19.60" stroke="#666" stroke-width="0.8"/>
<text x="327.20" y="23.50" fill="#111" font-weight="bold" font-size="10.7" text-anchor="end"  stroke="#111" stroke-width="0.3">1000</text>
<line x1="346.80" y1="163.00" x2="346.80" y2="165.70" stroke="#666" stroke-width="0.8"/>
<text x="346.80" y="175.20" fill="#111" font-weight="bold" font-size="10.7" text-anchor="middle"  stroke="#111" stroke-width="0.3">−2</text>
<line x1="394.30" y1="163.00" x2="394.30" y2="165.70" stroke="#666" stroke-width="0.8"/>
<text x="394.30" y="175.20" fill="#111" font-weight="bold" font-size="10.7" text-anchor="middle"  stroke="#111" stroke-width="0.3">0</text>
<line x1="441.80" y1="163.00" x2="441.80" y2="165.70" stroke="#666" stroke-width="0.8"/>
<text x="441.80" y="175.20" fill="#111" font-weight="bold" font-size="10.7" text-anchor="middle"  stroke="#111" stroke-width="0.3">2</text>
<line x1="489.30" y1="163.00" x2="489.30" y2="165.70" stroke="#666" stroke-width="0.8"/>
<text x="489.30" y="175.20" fill="#111" font-weight="bold" font-size="10.7" text-anchor="middle"  stroke="#111" stroke-width="0.3">4</text>
<line x1="536.80" y1="163.00" x2="536.80" y2="165.70" stroke="#666" stroke-width="0.8"/>
<text x="536.80" y="175.20" fill="#111" font-weight="bold" font-size="10.7" text-anchor="middle"  stroke="#111" stroke-width="0.3">6</text>
<rect x="331.10" y="6.50" width="213.30" height="156.50" fill="none" stroke="#606060" stroke-width="1"/>
<text x="437.75" y="186.40" fill="#111" font-weight="bold" font-size="10.7" text-anchor="middle"  stroke="#111" stroke-width="0.3">Terrain Height Residuals</text>
<text x="0" y="0" fill="#111" font-weight="bold" font-size="10.7" text-anchor="middle" transform="translate(301.20,84.75) rotate(-90)">Number of Observations</text>
<line x1="36.50" y1="392.60" x2="39.20" y2="392.60" stroke="#666" stroke-width="0.8"/>
<text x="35.30" y="396.50" fill="#111" font-weight="bold" font-size="10.7" text-anchor="end"  stroke="#111" stroke-width="0.3">0</text>
<line x1="36.50" y1="361.96" x2="39.20" y2="361.96" stroke="#666" stroke-width="0.8"/>
<text x="35.30" y="365.86" fill="#111" font-weight="bold" font-size="10.7" text-anchor="end"  stroke="#111" stroke-width="0.3">100</text>
<line x1="36.50" y1="331.32" x2="39.20" y2="331.32" stroke="#666" stroke-width="0.8"/>
<text x="35.30" y="335.22" fill="#111" font-weight="bold" font-size="10.7" text-anchor="end"  stroke="#111" stroke-width="0.3">200</text>
<line x1="36.50" y1="300.68" x2="39.20" y2="300.68" stroke="#666" stroke-width="0.8"/>
<text x="35.30" y="304.58" fill="#111" font-weight="bold" font-size="10.7" text-anchor="end"  stroke="#111" stroke-width="0.3">300</text>
<line x1="36.50" y1="270.04" x2="39.20" y2="270.04" stroke="#666" stroke-width="0.8"/>
<text x="35.30" y="273.94" fill="#111" font-weight="bold" font-size="10.7" text-anchor="end"  stroke="#111" stroke-width="0.3">400</text>
<line x1="36.50" y1="239.40" x2="39.20" y2="239.40" stroke="#666" stroke-width="0.8"/>
<text x="35.30" y="243.30" fill="#111" font-weight="bold" font-size="10.7" text-anchor="end"  stroke="#111" stroke-width="0.3">500</text>
<line x1="55.10" y1="392.60" x2="55.10" y2="395.30" stroke="#666" stroke-width="0.8"/>
<text x="55.10" y="404.80" fill="#111" font-weight="bold" font-size="10.7" text-anchor="middle"  stroke="#111" stroke-width="0.3">−2</text>
<line x1="103.60" y1="392.60" x2="103.60" y2="395.30" stroke="#666" stroke-width="0.8"/>
<text x="103.60" y="404.80" fill="#111" font-weight="bold" font-size="10.7" text-anchor="middle"  stroke="#111" stroke-width="0.3">0</text>
<line x1="152.10" y1="392.60" x2="152.10" y2="395.30" stroke="#666" stroke-width="0.8"/>
<text x="152.10" y="404.80" fill="#111" font-weight="bold" font-size="10.7" text-anchor="middle"  stroke="#111" stroke-width="0.3">2</text>
<line x1="200.60" y1="392.60" x2="200.60" y2="395.30" stroke="#666" stroke-width="0.8"/>
<text x="200.60" y="404.80" fill="#111" font-weight="bold" font-size="10.7" text-anchor="middle"  stroke="#111" stroke-width="0.3">4</text>
<line x1="249.10" y1="392.60" x2="249.10" y2="395.30" stroke="#666" stroke-width="0.8"/>
<text x="249.10" y="404.80" fill="#111" font-weight="bold" font-size="10.7" text-anchor="middle"  stroke="#111" stroke-width="0.3">6</text>
<rect x="39.20" y="237.50" width="218.30" height="155.10" fill="none" stroke="#606060" stroke-width="1"/>
<text x="148.35" y="416.00" fill="#111" font-weight="bold" font-size="10.7" text-anchor="middle"  stroke="#111" stroke-width="0.3">Terrain Height Residuals</text>
<text x="0" y="0" fill="#111" font-weight="bold" font-size="10.7" text-anchor="middle" transform="translate(14.70,315.05) rotate(-90)">Number of Observations</text>
<line x1="323.20" y1="392.40" x2="325.90" y2="392.40" stroke="#666" stroke-width="0.8"/>
<text x="322.00" y="396.30" fill="#111" font-weight="bold" font-size="10.7" text-anchor="end"  stroke="#111" stroke-width="0.3">0</text>
<line x1="323.20" y1="363.66" x2="325.90" y2="363.66" stroke="#666" stroke-width="0.8"/>
<text x="322.00" y="367.56" fill="#111" font-weight="bold" font-size="10.7" text-anchor="end"  stroke="#111" stroke-width="0.3">100</text>
<line x1="323.20" y1="334.92" x2="325.90" y2="334.92" stroke="#666" stroke-width="0.8"/>
<text x="322.00" y="338.82" fill="#111" font-weight="bold" font-size="10.7" text-anchor="end"  stroke="#111" stroke-width="0.3">200</text>
<line x1="323.20" y1="306.18" x2="325.90" y2="306.18" stroke="#666" stroke-width="0.8"/>
<text x="322.00" y="310.08" fill="#111" font-weight="bold" font-size="10.7" text-anchor="end"  stroke="#111" stroke-width="0.3">300</text>
<line x1="323.20" y1="277.44" x2="325.90" y2="277.44" stroke="#666" stroke-width="0.8"/>
<text x="322.00" y="281.34" fill="#111" font-weight="bold" font-size="10.7" text-anchor="end"  stroke="#111" stroke-width="0.3">400</text>
<line x1="323.20" y1="248.70" x2="325.90" y2="248.70" stroke="#666" stroke-width="0.8"/>
<text x="322.00" y="252.60" fill="#111" font-weight="bold" font-size="10.7" text-anchor="end"  stroke="#111" stroke-width="0.3">500</text>
<line x1="341.80" y1="392.40" x2="341.80" y2="395.10" stroke="#666" stroke-width="0.8"/>
<text x="341.80" y="404.60" fill="#111" font-weight="bold" font-size="10.7" text-anchor="middle"  stroke="#111" stroke-width="0.3">−2</text>
<line x1="390.30" y1="392.40" x2="390.30" y2="395.10" stroke="#666" stroke-width="0.8"/>
<text x="390.30" y="404.60" fill="#111" font-weight="bold" font-size="10.7" text-anchor="middle"  stroke="#111" stroke-width="0.3">0</text>
<line x1="438.80" y1="392.40" x2="438.80" y2="395.10" stroke="#666" stroke-width="0.8"/>
<text x="438.80" y="404.60" fill="#111" font-weight="bold" font-size="10.7" text-anchor="middle"  stroke="#111" stroke-width="0.3">2</text>
<line x1="487.30" y1="392.40" x2="487.30" y2="395.10" stroke="#666" stroke-width="0.8"/>
<text x="487.30" y="404.60" fill="#111" font-weight="bold" font-size="10.7" text-anchor="middle"  stroke="#111" stroke-width="0.3">4</text>
<line x1="535.80" y1="392.40" x2="535.80" y2="395.10" stroke="#666" stroke-width="0.8"/>
<text x="535.80" y="404.60" fill="#111" font-weight="bold" font-size="10.7" text-anchor="middle"  stroke="#111" stroke-width="0.3">6</text>
<rect x="325.90" y="235.90" width="218.40" height="156.50" fill="none" stroke="#606060" stroke-width="1"/>
<text x="435.10" y="416.00" fill="#111" font-weight="bold" font-size="10.7" text-anchor="middle"  stroke="#111" stroke-width="0.3">Terrain Height Residuals</text>
<text x="0" y="0" fill="#111" font-weight="bold" font-size="10.7" text-anchor="middle" transform="translate(301.90,314.15) rotate(-90)">Number of Observations</text>
<rect x="47.00" y="32.00" width="145.60" height="11.60" fill="#ffe4f0"/>
<rect x="47.00" y="44.90" width="161.00" height="10.70" fill="#d8f8f8"/>
<text x="47.20" y="16.70" fill="#000" font-weight="bold" font-size="10.7" text-anchor="start"  stroke="#000" stroke-width="0.3">RMSE; MAE; Bias; R²</text>
<text x="47.20" y="28.70" fill="#33419a" font-weight="bold" font-size="10.7" text-anchor="start"  stroke="#33419a" stroke-width="0.3">Daytime: 1.27; 0.64; 0.46; 1.00</text>
<text x="47.20" y="40.90" fill="#8e2a22" font-weight="bold" font-size="10.7" text-anchor="start"  stroke="#8e2a22" stroke-width="0.3">Nighttime: 0.91; 0.41; 0.20; 1.00</text>
<text x="47.20" y="53.30" fill="#3a9ca2" font-weight="bold" font-size="10.7" text-anchor="start"  stroke="#3a9ca2" stroke-width="0.3">All conditions: 1.15; 0.56; 0.37;1.00</text>
<rect x="333.50" y="31.80" width="130.30" height="11.40" fill="#ffe4f0"/>
<rect x="333.50" y="44.40" width="114.70" height="11.20" fill="#d8f8f8"/>
<text x="333.70" y="16.40" fill="#000" font-weight="bold" font-size="10.7" text-anchor="start"  stroke="#000" stroke-width="0.3">RMSE; MAE; Bias; R²</text>
<text x="333.70" y="28.40" fill="#33419a" font-weight="bold" font-size="10.7" text-anchor="start"  stroke="#33419a" stroke-width="0.3">Strong: 1.12; 0.54; 0.33; 1.00</text>
<text x="333.70" y="40.40" fill="#84382a" font-weight="bold" font-size="10.7" text-anchor="start"  stroke="#84382a" stroke-width="0.3">Weak: 1.20; 0.58; 0.42; 1.00</text>
<text x="333.70" y="53.00" fill="#4aa2aa" font-weight="bold" font-size="10.7" text-anchor="start"  stroke="#4aa2aa" stroke-width="0.3">All: 1.15; 0.56; 0.37; 1.00</text>
<rect x="40.20" y="248.20" width="135.70" height="8.00" fill="#ffe4f0"/>
<rect x="40.00" y="264.40" width="160.30" height="15.20" fill="#d8f8f8"/>
<text x="41.70" y="246.50" fill="#000" font-weight="bold" font-size="10.7" text-anchor="start"  stroke="#000" stroke-width="0.3">RMSE; MAE; Bias; R²</text>
<text x="41.70" y="255.60" fill="#b0443a" font-weight="bold" font-size="10.7" text-anchor="start"  stroke="#b0443a" stroke-width="0.3">leaf off: 1.06; 0.50; 0.30; 1.00</text>
<text x="41.70" y="265.10" fill="#2a3590" font-weight="bold" font-size="10.7" text-anchor="start"  stroke="#2a3590" stroke-width="0.3">leaf on: 1.33; 0.72; 0.58; 1.00</text>
<text x="41.70" y="274.70" fill="#6a8ca4" font-weight="bold" font-size="10.7" text-anchor="start"  stroke="#6a8ca4" stroke-width="0.3">All condition: 1.15; 0.56; 0.37; 1.00</text>
<rect x="327.60" y="247.60" width="128.40" height="8.40" fill="#ffe4f0"/>
<rect x="327.60" y="271.80" width="168.60" height="9.20" fill="#d8f8f8"/>
<text x="328.50" y="244.90" fill="#000" font-weight="bold" font-size="10.7" text-anchor="start"  stroke="#000" stroke-width="0.3">RMSE; MAE; Bias; R²</text>
<text x="328.50" y="254.50" fill="#b83c32" font-weight="bold" font-size="10.7" text-anchor="start"  stroke="#b83c32" stroke-width="0.3">snow: 1.06; 0.46; 0.21; 1.00</text>
<text x="328.50" y="267.00" fill="#2a3a92" font-weight="bold" font-size="10.7" text-anchor="start"  stroke="#2a3a92" stroke-width="0.3">no snow: 1.26; 0.68; 0.57; 1.00</text>
<text x="328.50" y="279.30" fill="#3a9a9c" font-weight="bold" font-size="10.7" text-anchor="start"  stroke="#3a9a9c" stroke-width="0.3">All conditions: 1.15; 0.56; 0.37; 1.00</text>
<text x="130.70" y="218.20" fill="#222" font-weight="normal" font-size="12" text-anchor="middle" >(a)</text>
<text x="417.20" y="218.50" fill="#222" font-weight="normal" font-size="12" text-anchor="middle" >(b)</text>
<text x="130.70" y="447.80" fill="#222" font-weight="normal" font-size="12" text-anchor="middle" >(c)</text>
<text x="417.40" y="447.80" fill="#222" font-weight="normal" font-size="12" text-anchor="middle" >(d)</text>
</svg>
</body></html>
